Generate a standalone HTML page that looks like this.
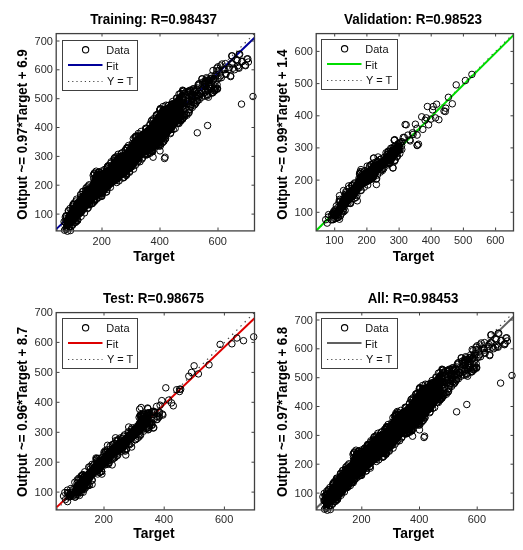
<!DOCTYPE html>
<html><head><meta charset="utf-8"><title>Regression</title>
<style>html,body{margin:0;padding:0;background:#fff;} svg{display:block;}
text{font-family:'Liberation Sans', Arial, Helvetica, sans-serif;}</style></head>
<body><svg width="523" height="550" viewBox="0 0 523 550">
<rect x="0" y="0" width="523" height="550" fill="#fff"/>
<g><line x1="56.5" y1="230.5" x2="254.5" y2="33.5" stroke="#444" stroke-width="1.2" stroke-dasharray="1.4 4.5"/>
<line x1="56.50" y1="228.88" x2="254.50" y2="37.79" stroke="#00009a" stroke-width="2"/>
<polygon points="64.0,219.8 65.5,215.8 67.0,212.8 68.5,210.2 70.0,208.2 71.4,206.1 72.9,204.0 74.4,201.9 75.9,199.8 77.4,197.7 78.9,195.8 80.4,194.0 81.8,192.3 83.3,190.5 84.8,189.0 86.3,187.5 87.8,186.0 89.3,184.5 90.8,180.6 92.3,176.6 93.8,173.3 95.2,171.8 96.7,170.4 98.2,170.2 99.7,170.2 101.2,170.2 102.7,169.5 104.2,168.6 105.7,167.7 107.1,166.7 108.6,164.7 110.1,162.6 111.6,160.5 113.1,158.5 114.6,157.1 116.1,155.6 117.5,154.1 119.0,152.9 120.5,152.5 122.0,152.1 123.5,151.5 125.0,149.7 126.5,147.8 128.0,145.9 129.4,143.6 130.9,141.3 132.4,139.3 133.9,137.8 135.4,136.3 136.9,134.8 138.4,133.3 139.9,132.1 141.3,131.0 142.8,129.8 144.3,128.7 145.8,127.6 147.3,126.5 148.8,124.7 150.3,122.4 151.8,120.2 153.2,118.2 154.7,116.4 156.2,114.7 157.7,112.9 159.2,109.5 160.7,106.9 162.2,106.4 163.7,105.9 165.2,105.4 166.6,104.9 168.1,104.0 169.6,103.1 171.1,102.2 172.6,101.3 174.1,99.5 175.6,97.7 177.1,95.8 178.5,94.0 180.0,92.2 181.5,91.9 183.0,91.7 183.0,118.7 181.5,120.7 180.0,122.6 178.5,124.5 177.1,126.3 175.6,128.1 174.1,129.9 172.6,131.7 171.1,133.4 169.6,135.2 168.1,136.9 166.6,138.6 165.2,140.3 163.7,142.1 162.2,143.8 160.7,145.6 159.2,147.2 157.7,148.3 156.2,149.4 154.7,150.4 153.2,151.5 151.8,152.5 150.3,153.3 148.8,154.0 147.3,154.7 145.8,155.3 144.3,156.5 142.8,158.3 141.3,160.1 139.9,161.9 138.4,163.7 136.9,165.5 135.4,167.3 133.9,169.1 132.4,170.5 130.9,171.7 129.4,172.9 128.0,174.2 126.5,175.4 125.0,176.6 123.5,177.8 122.0,179.1 120.5,180.3 119.0,181.5 117.5,182.7 116.1,183.9 114.6,185.1 113.1,186.3 111.6,187.8 110.1,189.3 108.6,190.8 107.1,192.2 105.7,193.4 104.2,194.6 102.7,195.8 101.2,196.8 99.7,197.7 98.2,198.6 96.7,199.5 95.2,200.8 93.8,202.2 92.3,203.7 90.8,205.2 89.3,207.2 87.8,209.2 86.3,211.3 84.8,213.4 83.3,215.0 81.8,216.4 80.4,217.9 78.9,219.4 77.4,220.9 75.9,222.4 74.4,223.9 72.9,225.1 71.4,226.3 70.0,227.4 68.5,228.5 67.0,228.8 65.5,229.2 64.0,229.5" fill="#000"/><g fill="none" stroke="#000" stroke-width="1"><circle cx="117.8" cy="169.9" r="3.25"/><circle cx="174.0" cy="113.8" r="3.25"/><circle cx="124.4" cy="166.1" r="3.25"/><circle cx="86.0" cy="200.1" r="3.25"/><circle cx="139.0" cy="156.8" r="3.25"/><circle cx="75.2" cy="207.6" r="3.25"/><circle cx="74.8" cy="219.3" r="3.25"/><circle cx="146.5" cy="128.2" r="3.25"/><circle cx="180.9" cy="120.5" r="3.25"/><circle cx="141.8" cy="148.4" r="3.25"/><circle cx="82.7" cy="191.6" r="3.25"/><circle cx="126.9" cy="148.9" r="3.25"/><circle cx="86.6" cy="192.9" r="3.25"/><circle cx="67.6" cy="219.5" r="3.25"/><circle cx="116.4" cy="179.1" r="3.25"/><circle cx="125.8" cy="166.1" r="3.25"/><circle cx="123.5" cy="169.0" r="3.25"/><circle cx="118.4" cy="161.3" r="3.25"/><circle cx="182.7" cy="119.0" r="3.25"/><circle cx="164.0" cy="131.2" r="3.25"/><circle cx="101.5" cy="176.3" r="3.25"/><circle cx="98.4" cy="172.2" r="3.25"/><circle cx="155.2" cy="129.6" r="3.25"/><circle cx="164.7" cy="119.2" r="3.25"/><circle cx="178.0" cy="120.5" r="3.25"/><circle cx="64.1" cy="221.7" r="3.25"/><circle cx="172.3" cy="115.8" r="3.25"/><circle cx="180.7" cy="103.9" r="3.25"/><circle cx="72.7" cy="217.5" r="3.25"/><circle cx="156.6" cy="123.6" r="3.25"/><circle cx="74.4" cy="209.3" r="3.25"/><circle cx="178.7" cy="116.9" r="3.25"/><circle cx="78.0" cy="202.6" r="3.25"/><circle cx="76.0" cy="201.0" r="3.25"/><circle cx="158.8" cy="117.1" r="3.25"/><circle cx="130.6" cy="155.4" r="3.25"/><circle cx="86.7" cy="204.5" r="3.25"/><circle cx="79.6" cy="210.3" r="3.25"/><circle cx="77.9" cy="206.9" r="3.25"/><circle cx="89.3" cy="190.5" r="3.25"/><circle cx="179.5" cy="117.3" r="3.25"/><circle cx="100.2" cy="194.3" r="3.25"/><circle cx="89.1" cy="193.7" r="3.25"/><circle cx="165.7" cy="127.4" r="3.25"/><circle cx="75.9" cy="222.1" r="3.25"/><circle cx="89.4" cy="190.2" r="3.25"/><circle cx="156.0" cy="126.4" r="3.25"/><circle cx="99.3" cy="172.2" r="3.25"/><circle cx="74.7" cy="214.4" r="3.25"/><circle cx="92.9" cy="191.8" r="3.25"/><circle cx="108.2" cy="177.0" r="3.25"/><circle cx="178.1" cy="109.3" r="3.25"/><circle cx="132.4" cy="166.4" r="3.25"/><circle cx="85.8" cy="191.8" r="3.25"/><circle cx="172.1" cy="126.7" r="3.25"/><circle cx="93.7" cy="178.8" r="3.25"/><circle cx="152.0" cy="150.4" r="3.25"/><circle cx="87.4" cy="208.7" r="3.25"/><circle cx="169.0" cy="123.1" r="3.25"/><circle cx="114.2" cy="160.4" r="3.25"/><circle cx="68.6" cy="227.8" r="3.25"/><circle cx="92.4" cy="195.6" r="3.25"/><circle cx="94.6" cy="196.3" r="3.25"/><circle cx="135.0" cy="145.8" r="3.25"/><circle cx="84.9" cy="206.5" r="3.25"/><circle cx="72.2" cy="209.8" r="3.25"/><circle cx="130.6" cy="167.6" r="3.25"/><circle cx="137.1" cy="143.2" r="3.25"/><circle cx="173.2" cy="106.8" r="3.25"/><circle cx="66.0" cy="218.7" r="3.25"/><circle cx="117.0" cy="156.4" r="3.25"/><circle cx="85.0" cy="197.8" r="3.25"/><circle cx="132.1" cy="143.7" r="3.25"/><circle cx="107.1" cy="189.4" r="3.25"/><circle cx="180.7" cy="111.6" r="3.25"/><circle cx="146.3" cy="143.5" r="3.25"/><circle cx="80.7" cy="194.5" r="3.25"/><circle cx="66.1" cy="227.7" r="3.25"/><circle cx="147.4" cy="153.6" r="3.25"/><circle cx="66.5" cy="223.4" r="3.25"/><circle cx="121.4" cy="172.2" r="3.25"/><circle cx="101.9" cy="196.3" r="3.25"/><circle cx="73.0" cy="215.5" r="3.25"/><circle cx="151.7" cy="149.4" r="3.25"/><circle cx="151.7" cy="143.0" r="3.25"/><circle cx="158.4" cy="144.8" r="3.25"/><circle cx="105.9" cy="185.1" r="3.25"/><circle cx="171.2" cy="129.3" r="3.25"/><circle cx="113.6" cy="180.0" r="3.25"/><circle cx="166.8" cy="124.1" r="3.25"/><circle cx="138.4" cy="145.0" r="3.25"/><circle cx="133.3" cy="157.5" r="3.25"/><circle cx="73.5" cy="216.9" r="3.25"/><circle cx="182.2" cy="116.4" r="3.25"/><circle cx="150.7" cy="134.0" r="3.25"/><circle cx="151.5" cy="139.3" r="3.25"/><circle cx="116.4" cy="179.0" r="3.25"/><circle cx="74.0" cy="218.8" r="3.25"/><circle cx="67.5" cy="221.9" r="3.25"/><circle cx="121.2" cy="158.6" r="3.25"/><circle cx="147.1" cy="140.6" r="3.25"/><circle cx="137.1" cy="162.8" r="3.25"/><circle cx="94.4" cy="172.9" r="3.25"/><circle cx="99.8" cy="188.8" r="3.25"/><circle cx="88.1" cy="189.6" r="3.25"/><circle cx="171.8" cy="122.2" r="3.25"/><circle cx="116.6" cy="180.4" r="3.25"/><circle cx="102.9" cy="186.8" r="3.25"/><circle cx="87.6" cy="196.2" r="3.25"/><circle cx="159.9" cy="143.1" r="3.25"/><circle cx="168.8" cy="116.2" r="3.25"/><circle cx="133.4" cy="148.2" r="3.25"/><circle cx="80.2" cy="206.1" r="3.25"/><circle cx="163.6" cy="136.7" r="3.25"/><circle cx="148.6" cy="152.6" r="3.25"/><circle cx="96.9" cy="175.1" r="3.25"/><circle cx="117.6" cy="161.9" r="3.25"/><circle cx="89.5" cy="193.5" r="3.25"/><circle cx="138.5" cy="148.2" r="3.25"/><circle cx="101.5" cy="192.4" r="3.25"/><circle cx="180.9" cy="105.4" r="3.25"/><circle cx="72.9" cy="204.7" r="3.25"/><circle cx="167.9" cy="105.6" r="3.25"/><circle cx="148.3" cy="141.8" r="3.25"/><circle cx="100.8" cy="191.5" r="3.25"/><circle cx="66.3" cy="216.2" r="3.25"/><circle cx="118.1" cy="154.3" r="3.25"/><circle cx="162.7" cy="115.0" r="3.25"/><circle cx="80.8" cy="194.7" r="3.25"/><circle cx="138.9" cy="146.4" r="3.25"/><circle cx="139.0" cy="152.6" r="3.25"/><circle cx="160.1" cy="144.7" r="3.25"/><circle cx="145.5" cy="133.4" r="3.25"/><circle cx="120.5" cy="157.5" r="3.25"/><circle cx="65.3" cy="222.4" r="3.25"/><circle cx="149.0" cy="129.7" r="3.25"/><circle cx="96.4" cy="180.7" r="3.25"/><circle cx="147.0" cy="141.3" r="3.25"/><circle cx="137.1" cy="157.8" r="3.25"/><circle cx="110.8" cy="183.0" r="3.25"/><circle cx="171.8" cy="104.5" r="3.25"/><circle cx="175.0" cy="120.4" r="3.25"/><circle cx="79.5" cy="205.9" r="3.25"/><circle cx="138.4" cy="160.9" r="3.25"/><circle cx="108.8" cy="179.3" r="3.25"/><circle cx="168.6" cy="129.7" r="3.25"/><circle cx="176.4" cy="110.8" r="3.25"/><circle cx="141.5" cy="136.8" r="3.25"/><circle cx="149.9" cy="147.9" r="3.25"/><circle cx="140.4" cy="153.0" r="3.25"/><circle cx="89.4" cy="204.8" r="3.25"/><circle cx="180.7" cy="121.1" r="3.25"/><circle cx="127.9" cy="168.3" r="3.25"/><circle cx="102.1" cy="193.8" r="3.25"/><circle cx="165.8" cy="117.1" r="3.25"/><circle cx="73.8" cy="212.3" r="3.25"/><circle cx="129.5" cy="166.1" r="3.25"/><circle cx="122.0" cy="152.9" r="3.25"/><circle cx="160.3" cy="109.5" r="3.25"/><circle cx="159.2" cy="116.1" r="3.25"/><circle cx="103.9" cy="189.3" r="3.25"/><circle cx="80.7" cy="197.2" r="3.25"/><circle cx="125.5" cy="168.7" r="3.25"/><circle cx="164.0" cy="130.6" r="3.25"/><circle cx="176.5" cy="111.5" r="3.25"/><circle cx="176.9" cy="98.6" r="3.25"/><circle cx="90.3" cy="194.3" r="3.25"/><circle cx="98.5" cy="190.8" r="3.25"/><circle cx="140.0" cy="147.5" r="3.25"/><circle cx="164.4" cy="125.6" r="3.25"/><circle cx="101.1" cy="180.4" r="3.25"/><circle cx="164.6" cy="137.5" r="3.25"/><circle cx="88.8" cy="204.5" r="3.25"/><circle cx="179.2" cy="109.1" r="3.25"/><circle cx="132.2" cy="145.8" r="3.25"/><circle cx="127.8" cy="160.3" r="3.25"/><circle cx="136.0" cy="136.5" r="3.25"/><circle cx="179.4" cy="108.7" r="3.25"/><circle cx="111.7" cy="182.3" r="3.25"/><circle cx="131.0" cy="156.2" r="3.25"/><circle cx="146.2" cy="129.1" r="3.25"/><circle cx="128.1" cy="157.4" r="3.25"/><circle cx="177.9" cy="123.0" r="3.25"/><circle cx="96.0" cy="184.7" r="3.25"/><circle cx="79.1" cy="205.8" r="3.25"/><circle cx="161.1" cy="141.3" r="3.25"/><circle cx="120.7" cy="161.3" r="3.25"/><circle cx="86.8" cy="201.6" r="3.25"/><circle cx="174.1" cy="103.4" r="3.25"/><circle cx="156.7" cy="114.9" r="3.25"/><circle cx="87.1" cy="187.1" r="3.25"/><circle cx="106.3" cy="191.9" r="3.25"/><circle cx="76.5" cy="220.8" r="3.25"/><circle cx="93.8" cy="174.2" r="3.25"/><circle cx="127.1" cy="147.9" r="3.25"/><circle cx="127.0" cy="148.0" r="3.25"/><circle cx="88.3" cy="207.6" r="3.25"/><circle cx="165.3" cy="139.0" r="3.25"/><circle cx="166.0" cy="105.2" r="3.25"/><circle cx="171.4" cy="104.2" r="3.25"/><circle cx="101.5" cy="195.8" r="3.25"/><circle cx="169.6" cy="107.3" r="3.25"/><circle cx="92.5" cy="203.5" r="3.25"/><circle cx="163.0" cy="106.6" r="3.25"/><circle cx="158.0" cy="114.0" r="3.25"/><circle cx="66.1" cy="215.6" r="3.25"/><circle cx="145.2" cy="155.0" r="3.25"/><circle cx="124.2" cy="177.2" r="3.25"/><circle cx="123.8" cy="177.4" r="3.25"/><circle cx="76.6" cy="199.2" r="3.25"/><circle cx="129.6" cy="172.2" r="3.25"/><circle cx="86.0" cy="188.1" r="3.25"/><circle cx="164.0" cy="141.2" r="3.25"/><circle cx="71.4" cy="226.1" r="3.25"/><circle cx="119.0" cy="180.9" r="3.25"/><circle cx="125.3" cy="150.4" r="3.25"/><circle cx="135.5" cy="136.9" r="3.25"/><circle cx="85.6" cy="190.4" r="3.25"/><circle cx="152.0" cy="120.1" r="3.25"/><circle cx="125.0" cy="150.3" r="3.25"/><circle cx="170.3" cy="133.7" r="3.25"/><circle cx="138.9" cy="135.1" r="3.25"/><circle cx="135.4" cy="165.2" r="3.25"/><circle cx="94.7" cy="201.0" r="3.25"/><circle cx="152.6" cy="151.5" r="3.25"/><circle cx="170.7" cy="132.8" r="3.25"/><circle cx="146.7" cy="154.8" r="3.25"/><circle cx="150.0" cy="124.1" r="3.25"/><circle cx="104.7" cy="169.4" r="3.25"/><circle cx="140.0" cy="161.7" r="3.25"/><circle cx="91.6" cy="203.8" r="3.25"/><circle cx="142.5" cy="157.8" r="3.25"/><circle cx="127.4" cy="148.3" r="3.25"/><circle cx="147.4" cy="154.6" r="3.25"/><circle cx="180.6" cy="93.5" r="3.25"/><circle cx="94.5" cy="173.8" r="3.25"/><circle cx="70.0" cy="208.5" r="3.25"/><circle cx="93.9" cy="201.8" r="3.25"/><circle cx="129.5" cy="171.4" r="3.25"/><circle cx="182.4" cy="119.2" r="3.25"/><circle cx="160.3" cy="108.6" r="3.25"/><circle cx="69.4" cy="226.7" r="3.25"/><circle cx="83.0" cy="191.5" r="3.25"/><circle cx="136.7" cy="136.2" r="3.25"/><circle cx="176.5" cy="98.1" r="3.25"/><circle cx="107.5" cy="166.5" r="3.25"/><circle cx="142.0" cy="159.0" r="3.25"/><circle cx="99.2" cy="172.1" r="3.25"/><circle cx="93.2" cy="175.4" r="3.25"/><circle cx="110.4" cy="187.3" r="3.25"/><circle cx="153.1" cy="121.3" r="3.25"/><circle cx="72.7" cy="225.0" r="3.25"/><circle cx="115.1" cy="157.4" r="3.25"/><circle cx="126.3" cy="175.4" r="3.25"/><circle cx="150.0" cy="125.0" r="3.25"/><circle cx="135.8" cy="136.2" r="3.25"/><circle cx="138.3" cy="133.5" r="3.25"/><circle cx="126.8" cy="147.7" r="3.25"/><circle cx="116.7" cy="182.5" r="3.25"/><circle cx="133.3" cy="138.7" r="3.25"/><circle cx="156.6" cy="146.1" r="3.25"/><circle cx="151.4" cy="120.8" r="3.25"/><circle cx="77.6" cy="220.4" r="3.25"/><circle cx="106.7" cy="168.6" r="3.25"/><circle cx="145.5" cy="154.0" r="3.25"/><circle cx="153.6" cy="118.7" r="3.25"/><circle cx="93.6" cy="200.2" r="3.25"/><circle cx="68.7" cy="211.1" r="3.25"/><circle cx="96.2" cy="171.2" r="3.25"/><circle cx="128.5" cy="145.5" r="3.25"/><circle cx="74.3" cy="222.4" r="3.25"/><circle cx="108.4" cy="165.5" r="3.25"/><circle cx="89.1" cy="184.8" r="3.25"/><circle cx="72.8" cy="206.4" r="3.25"/><circle cx="160.3" cy="146.0" r="3.25"/><circle cx="114.5" cy="158.0" r="3.25"/><circle cx="160.4" cy="109.0" r="3.25"/><circle cx="102.7" cy="192.8" r="3.25"/><circle cx="152.8" cy="150.8" r="3.25"/><circle cx="75.5" cy="222.2" r="3.25"/><circle cx="73.3" cy="204.7" r="3.25"/><circle cx="145.6" cy="128.3" r="3.25"/><circle cx="156.3" cy="115.0" r="3.25"/><circle cx="73.7" cy="204.6" r="3.25"/><circle cx="150.3" cy="153.2" r="3.25"/><circle cx="106.6" cy="192.0" r="3.25"/><circle cx="107.6" cy="166.5" r="3.25"/><circle cx="173.3" cy="129.4" r="3.25"/><circle cx="172.7" cy="101.5" r="3.25"/><circle cx="101.8" cy="171.0" r="3.25"/><circle cx="175.2" cy="128.5" r="3.25"/><circle cx="107.5" cy="167.4" r="3.25"/><circle cx="111.1" cy="161.8" r="3.25"/><circle cx="158.9" cy="146.0" r="3.25"/><circle cx="163.5" cy="141.4" r="3.25"/><circle cx="168.8" cy="105.4" r="3.25"/><circle cx="66.6" cy="227.4" r="3.25"/><circle cx="179.0" cy="123.5" r="3.25"/><circle cx="159.7" cy="110.0" r="3.25"/><circle cx="74.0" cy="203.1" r="3.25"/><circle cx="151.7" cy="151.1" r="3.25"/><circle cx="81.1" cy="216.3" r="3.25"/><circle cx="141.2" cy="131.4" r="3.25"/><circle cx="126.1" cy="173.7" r="3.25"/><circle cx="110.9" cy="163.2" r="3.25"/><circle cx="122.7" cy="178.1" r="3.25"/><circle cx="149.8" cy="152.5" r="3.25"/><circle cx="162.3" cy="143.0" r="3.25"/><circle cx="165.6" cy="138.6" r="3.25"/><circle cx="178.0" cy="123.0" r="3.25"/><circle cx="126.3" cy="175.1" r="3.25"/><circle cx="114.0" cy="158.8" r="3.25"/><circle cx="152.2" cy="151.7" r="3.25"/><circle cx="88.3" cy="186.0" r="3.25"/><circle cx="98.8" cy="197.3" r="3.25"/><circle cx="77.7" cy="220.3" r="3.25"/><circle cx="156.3" cy="115.8" r="3.25"/><circle cx="133.5" cy="169.1" r="3.25"/><circle cx="68.3" cy="210.7" r="3.25"/><circle cx="92.0" cy="203.2" r="3.25"/><circle cx="134.8" cy="137.3" r="3.25"/><circle cx="84.5" cy="212.9" r="3.25"/><circle cx="101.1" cy="196.3" r="3.25"/><circle cx="95.0" cy="199.8" r="3.25"/><circle cx="172.8" cy="103.9" r="3.25"/><circle cx="121.4" cy="153.2" r="3.25"/><circle cx="69.9" cy="227.1" r="3.25"/><circle cx="126.8" cy="174.0" r="3.25"/><circle cx="96.7" cy="199.1" r="3.25"/><circle cx="65.3" cy="217.1" r="3.25"/><circle cx="64.5" cy="230.2" r="3.25"/><circle cx="67.5" cy="231.2" r="3.25"/><circle cx="66.0" cy="229.0" r="3.25"/><circle cx="70.5" cy="230.5" r="3.25"/><circle cx="197.0" cy="96.2" r="3.25"/><circle cx="204.7" cy="83.0" r="3.25"/><circle cx="178.4" cy="105.6" r="3.25"/><circle cx="189.0" cy="109.6" r="3.25"/><circle cx="205.6" cy="90.5" r="3.25"/><circle cx="200.3" cy="93.7" r="3.25"/><circle cx="183.8" cy="103.1" r="3.25"/><circle cx="184.5" cy="114.4" r="3.25"/><circle cx="180.4" cy="116.7" r="3.25"/><circle cx="181.0" cy="112.2" r="3.25"/><circle cx="191.5" cy="97.8" r="3.25"/><circle cx="211.7" cy="78.2" r="3.25"/><circle cx="180.4" cy="119.5" r="3.25"/><circle cx="198.4" cy="85.6" r="3.25"/><circle cx="217.5" cy="88.4" r="3.25"/><circle cx="182.5" cy="103.5" r="3.25"/><circle cx="183.4" cy="100.0" r="3.25"/><circle cx="202.9" cy="84.0" r="3.25"/><circle cx="205.9" cy="81.1" r="3.25"/><circle cx="184.8" cy="111.7" r="3.25"/><circle cx="194.0" cy="95.6" r="3.25"/><circle cx="201.8" cy="89.8" r="3.25"/><circle cx="193.4" cy="88.8" r="3.25"/><circle cx="207.1" cy="95.9" r="3.25"/><circle cx="217.1" cy="84.7" r="3.25"/><circle cx="192.3" cy="96.2" r="3.25"/><circle cx="205.6" cy="91.8" r="3.25"/><circle cx="182.6" cy="98.3" r="3.25"/><circle cx="192.5" cy="98.9" r="3.25"/><circle cx="210.4" cy="86.5" r="3.25"/><circle cx="179.1" cy="118.4" r="3.25"/><circle cx="195.2" cy="96.1" r="3.25"/><circle cx="186.9" cy="101.5" r="3.25"/><circle cx="193.5" cy="102.8" r="3.25"/><circle cx="182.1" cy="107.3" r="3.25"/><circle cx="185.1" cy="108.6" r="3.25"/><circle cx="179.5" cy="101.3" r="3.25"/><circle cx="191.8" cy="102.3" r="3.25"/><circle cx="180.1" cy="106.1" r="3.25"/><circle cx="186.4" cy="98.1" r="3.25"/><circle cx="197.1" cy="101.1" r="3.25"/><circle cx="197.2" cy="100.7" r="3.25"/><circle cx="184.7" cy="114.6" r="3.25"/><circle cx="192.6" cy="92.5" r="3.25"/><circle cx="207.9" cy="94.5" r="3.25"/><circle cx="178.3" cy="102.5" r="3.25"/><circle cx="208.8" cy="84.7" r="3.25"/><circle cx="187.7" cy="91.3" r="3.25"/><circle cx="179.6" cy="111.6" r="3.25"/><circle cx="217.4" cy="89.2" r="3.25"/><circle cx="198.1" cy="84.7" r="3.25"/><circle cx="190.9" cy="106.6" r="3.25"/><circle cx="211.3" cy="88.2" r="3.25"/><circle cx="187.2" cy="103.8" r="3.25"/><circle cx="197.1" cy="95.5" r="3.25"/><circle cx="188.5" cy="113.2" r="3.25"/><circle cx="213.8" cy="79.4" r="3.25"/><circle cx="189.7" cy="110.1" r="3.25"/><circle cx="189.1" cy="112.5" r="3.25"/><circle cx="198.6" cy="95.3" r="3.25"/><circle cx="206.2" cy="83.7" r="3.25"/><circle cx="189.4" cy="96.4" r="3.25"/><circle cx="205.3" cy="92.2" r="3.25"/><circle cx="183.3" cy="115.3" r="3.25"/><circle cx="194.8" cy="91.6" r="3.25"/><circle cx="195.4" cy="103.9" r="3.25"/><circle cx="200.4" cy="93.1" r="3.25"/><circle cx="214.8" cy="90.8" r="3.25"/><circle cx="208.4" cy="86.1" r="3.25"/><circle cx="201.5" cy="97.3" r="3.25"/><circle cx="209.6" cy="88.2" r="3.25"/><circle cx="191.9" cy="96.6" r="3.25"/><circle cx="207.4" cy="89.0" r="3.25"/><circle cx="178.7" cy="115.5" r="3.25"/><circle cx="214.2" cy="88.8" r="3.25"/><circle cx="213.9" cy="90.6" r="3.25"/><circle cx="199.4" cy="96.4" r="3.25"/><circle cx="193.2" cy="90.2" r="3.25"/><circle cx="192.1" cy="95.3" r="3.25"/><circle cx="215.4" cy="86.3" r="3.25"/><circle cx="199.7" cy="93.5" r="3.25"/><circle cx="183.0" cy="106.2" r="3.25"/><circle cx="206.0" cy="86.8" r="3.25"/><circle cx="187.8" cy="100.7" r="3.25"/><circle cx="190.9" cy="104.3" r="3.25"/><circle cx="183.7" cy="94.0" r="3.25"/><circle cx="190.5" cy="105.1" r="3.25"/><circle cx="208.4" cy="90.1" r="3.25"/><circle cx="215.4" cy="81.5" r="3.25"/><circle cx="179.2" cy="108.1" r="3.25"/><circle cx="195.7" cy="89.5" r="3.25"/><circle cx="204.7" cy="86.4" r="3.25"/><circle cx="187.5" cy="98.9" r="3.25"/><circle cx="215.8" cy="76.0" r="3.25"/><circle cx="192.4" cy="94.4" r="3.25"/><circle cx="186.1" cy="91.8" r="3.25"/><circle cx="198.0" cy="97.9" r="3.25"/><circle cx="184.5" cy="93.3" r="3.25"/><circle cx="188.0" cy="92.5" r="3.25"/><circle cx="212.2" cy="93.1" r="3.25"/><circle cx="208.5" cy="80.8" r="3.25"/><circle cx="204.9" cy="96.1" r="3.25"/><circle cx="205.2" cy="80.7" r="3.25"/><circle cx="207.3" cy="80.8" r="3.25"/><circle cx="190.3" cy="90.1" r="3.25"/><circle cx="187.0" cy="115.2" r="3.25"/><circle cx="210.1" cy="79.1" r="3.25"/><circle cx="215.4" cy="89.0" r="3.25"/><circle cx="213.9" cy="78.4" r="3.25"/><circle cx="183.0" cy="117.8" r="3.25"/><circle cx="209.4" cy="80.4" r="3.25"/><circle cx="202.7" cy="82.2" r="3.25"/><circle cx="193.4" cy="88.9" r="3.25"/><circle cx="210.3" cy="78.9" r="3.25"/><circle cx="216.8" cy="88.8" r="3.25"/><circle cx="180.1" cy="120.9" r="3.25"/><circle cx="192.4" cy="107.3" r="3.25"/><circle cx="190.2" cy="91.6" r="3.25"/><circle cx="186.4" cy="113.7" r="3.25"/><circle cx="179.0" cy="94.2" r="3.25"/><circle cx="184.5" cy="116.7" r="3.25"/><circle cx="189.9" cy="90.7" r="3.25"/><circle cx="212.5" cy="92.1" r="3.25"/><circle cx="182.1" cy="118.6" r="3.25"/><circle cx="199.1" cy="99.8" r="3.25"/><circle cx="231.7" cy="55.9" r="3.25"/><circle cx="239.7" cy="54.2" r="3.25"/><circle cx="247.8" cy="58.8" r="3.25"/><circle cx="242.0" cy="61.7" r="3.25"/><circle cx="245.5" cy="65.7" r="3.25"/><circle cx="237.4" cy="60.5" r="3.25"/><circle cx="232.8" cy="64.0" r="3.25"/><circle cx="238.6" cy="67.4" r="3.25"/><circle cx="234.6" cy="69.7" r="3.25"/><circle cx="229.4" cy="67.4" r="3.25"/><circle cx="222.0" cy="64.0" r="3.25"/><circle cx="217.9" cy="66.8" r="3.25"/><circle cx="224.8" cy="69.7" r="3.25"/><circle cx="216.8" cy="70.8" r="3.25"/><circle cx="230.6" cy="76.6" r="3.25"/><circle cx="221.4" cy="77.7" r="3.25"/><circle cx="226.0" cy="74.3" r="3.25"/><circle cx="213.3" cy="80.0" r="3.25"/><circle cx="206.5" cy="77.7" r="3.25"/><circle cx="201.9" cy="78.9" r="3.25"/><circle cx="208.8" cy="82.3" r="3.25"/><circle cx="217.9" cy="78.9" r="3.25"/><circle cx="241.5" cy="104.1" r="3.25"/><circle cx="253.0" cy="96.5" r="3.25"/><circle cx="207.6" cy="125.5" r="3.25"/><circle cx="197.3" cy="132.8" r="3.25"/><circle cx="165.1" cy="157.2" r="3.25"/><circle cx="164.5" cy="158.5" r="3.25"/><circle cx="160.0" cy="150.9" r="3.25"/><circle cx="153.1" cy="157.2" r="3.25"/><circle cx="183.2" cy="90.8" r="3.25"/><circle cx="182.6" cy="90.2" r="3.25"/><circle cx="232.2" cy="55.9" r="3.25"/><circle cx="239.1" cy="54.4" r="3.25"/><circle cx="246.9" cy="59.0" r="3.25"/><circle cx="248.4" cy="62.0" r="3.25"/><circle cx="242.2" cy="61.3" r="3.25"/><circle cx="236.1" cy="59.8" r="3.25"/><circle cx="245.3" cy="65.1" r="3.25"/><circle cx="237.6" cy="65.9" r="3.25"/><circle cx="231.5" cy="63.6" r="3.25"/><circle cx="225.4" cy="63.6" r="3.25"/><circle cx="220.7" cy="65.9" r="3.25"/><circle cx="216.8" cy="68.2" r="3.25"/><circle cx="213.0" cy="70.5" r="3.25"/><circle cx="219.1" cy="70.5" r="3.25"/><circle cx="223.7" cy="69.7" r="3.25"/><circle cx="228.4" cy="69.7" r="3.25"/><circle cx="233.0" cy="68.2" r="3.25"/><circle cx="239.1" cy="68.2" r="3.25"/><circle cx="216.1" cy="74.3" r="3.25"/><circle cx="220.7" cy="75.8" r="3.25"/><circle cx="225.4" cy="73.5" r="3.25"/><circle cx="230.7" cy="75.8" r="3.25"/><circle cx="219.1" cy="78.1" r="3.25"/><circle cx="211.5" cy="75.8" r="3.25"/><circle cx="206.9" cy="78.9" r="3.25"/><circle cx="202.2" cy="78.9" r="3.25"/><circle cx="205.4" cy="83.5" r="3.25"/><circle cx="199.2" cy="83.5" r="3.25"/><circle cx="210.0" cy="86.5" r="3.25"/><circle cx="214.6" cy="89.6" r="3.25"/><circle cx="213.0" cy="92.6" r="3.25"/><circle cx="206.9" cy="94.2" r="3.25"/><circle cx="208.4" cy="97.2" r="3.25"/><circle cx="197.6" cy="88.0" r="3.25"/><circle cx="194.6" cy="91.1" r="3.25"/><circle cx="200.7" cy="94.2" r="3.25"/><circle cx="196.1" cy="102.7" r="3.25"/><circle cx="190.0" cy="94.2" r="3.25"/><circle cx="183.0" cy="90.8" r="3.25"/><circle cx="183.5" cy="91.3" r="3.25"/><circle cx="188.5" cy="101.8" r="3.25"/><circle cx="183.8" cy="104.9" r="3.25"/><circle cx="194.6" cy="104.9" r="3.25"/></g>
<rect x="56.2" y="33.6" width="198.3" height="197.3" fill="none" stroke="#404040" stroke-width="1.3"/>
<text transform="translate(101.7,244.5) scale(1,1.06)" font-size="11" text-anchor="middle" fill="#2a2a2a">200</text>
<text transform="translate(159.7,244.5) scale(1,1.06)" font-size="11" text-anchor="middle" fill="#2a2a2a">400</text>
<text transform="translate(217.7,244.5) scale(1,1.06)" font-size="11" text-anchor="middle" fill="#2a2a2a">600</text>
<text transform="translate(52.9,217.6) scale(1,1.06)" font-size="11" text-anchor="end" fill="#2a2a2a">100</text>
<text transform="translate(52.9,188.7) scale(1,1.06)" font-size="11" text-anchor="end" fill="#2a2a2a">200</text>
<text transform="translate(52.9,159.9) scale(1,1.06)" font-size="11" text-anchor="end" fill="#2a2a2a">300</text>
<text transform="translate(52.9,131.0) scale(1,1.06)" font-size="11" text-anchor="end" fill="#2a2a2a">400</text>
<text transform="translate(52.9,102.2) scale(1,1.06)" font-size="11" text-anchor="end" fill="#2a2a2a">500</text>
<text transform="translate(52.9,73.3) scale(1,1.06)" font-size="11" text-anchor="end" fill="#2a2a2a">600</text>
<text transform="translate(52.9,44.5) scale(1,1.06)" font-size="11" text-anchor="end" fill="#2a2a2a">700</text>
<path d="M102.0 230.5v-3M102.0 33.5v3M160.0 230.5v-3M160.0 33.5v3M218.0 230.5v-3M218.0 33.5v3M56.5 214.1h3M254.5 214.1h-3M56.5 185.2h3M254.5 185.2h-3M56.5 156.4h3M254.5 156.4h-3M56.5 127.5h3M254.5 127.5h-3M56.5 98.7h3M254.5 98.7h-3M56.5 69.8h3M254.5 69.8h-3M56.5 41.0h3M254.5 41.0h-3" stroke="#404040" stroke-width="1" fill="none"/>
<text transform="translate(153.5,23.5) scale(1.01,1.1)" font-size="13.33" font-weight="bold" text-anchor="middle" fill="#000">Training: R=0.98437</text>
<text transform="translate(153.9,260.5) scale(1.04,1.1)" font-size="13.33" font-weight="bold" text-anchor="middle" fill="#000">Target</text>
<text transform="translate(27.4,134.5) rotate(-90) scale(0.995,1.1)" font-size="13.33" font-weight="bold" text-anchor="middle" fill="#000">Output ~= 0.97*Target + 6.9</text>
<rect x="62.5" y="40.5" width="75" height="50" fill="#fff" stroke="#404040" stroke-width="1"/>
<circle cx="85.6" cy="49.8" r="3.15" fill="none" stroke="#000" stroke-width="1.1"/>
<text transform="translate(106.3,54.4) scale(1,1.06)" font-size="11" fill="#111">Data</text>
<line x1="68.0" y1="65.0" x2="102.5" y2="65.0" stroke="#00009a" stroke-width="2"/>
<text transform="translate(106.1,69.9) scale(1,1.06)" font-size="11" fill="#111">Fit</text>
<line x1="68.0" y1="81.5" x2="102.5" y2="81.5" stroke="#444" stroke-width="1" stroke-dasharray="1.2 3"/>
<text transform="translate(107.0,85.1) scale(1,1.06)" font-size="11" fill="#111">Y = T</text></g>
<g><line x1="316.5" y1="230.5" x2="513.5" y2="33.5" stroke="#444" stroke-width="1.2" stroke-dasharray="1.4 4.5"/>
<line x1="316.50" y1="230.19" x2="513.50" y2="35.16" stroke="#00dd00" stroke-width="2"/>
<polygon points="333.0,211.3 333.9,210.4 334.7,209.4 335.6,208.3 336.4,206.1 337.3,203.9 338.2,202.0 339.0,200.5 339.9,199.0 340.8,197.5 341.6,196.0 342.5,194.6 343.4,193.7 344.2,192.9 345.1,192.0 345.9,191.2 346.8,190.3 347.7,189.4 348.5,188.6 349.4,187.7 350.2,186.8 351.1,185.9 352.0,185.1 352.8,184.2 353.7,183.3 354.6,181.6 355.4,179.7 356.3,177.9 357.1,176.0 358.0,174.2 358.9,173.7 359.7,173.1 360.6,172.6 361.5,172.1 362.3,171.6 363.2,171.0 364.1,170.5 364.9,170.0 365.8,169.5 366.6,168.9 367.5,168.3 368.4,167.3 369.2,166.3 370.1,165.4 370.9,164.4 371.8,163.4 372.7,162.5 373.5,162.0 374.4,161.7 375.3,161.4 376.1,161.1 377.0,160.8 377.9,160.5 378.7,160.2 379.6,159.4 380.4,158.6 381.3,157.7 382.2,156.9 383.0,156.1 383.9,155.3 384.8,154.4 385.6,153.5 386.5,152.5 387.3,151.6 388.2,150.6 389.1,149.7 389.9,148.7 390.8,147.8 391.6,147.0 392.5,146.4 393.4,145.9 394.2,145.4 395.1,144.8 396.0,144.3 396.8,143.7 397.7,143.2 398.6,142.7 399.4,142.2 400.3,141.9 401.1,141.7 402.0,141.4 402.0,151.9 401.1,153.0 400.3,154.0 399.4,155.0 398.6,156.0 397.7,157.0 396.8,158.0 396.0,159.0 395.1,160.2 394.2,161.4 393.4,162.4 392.5,162.8 391.6,163.1 390.8,163.5 389.9,163.9 389.1,164.3 388.2,164.6 387.3,165.3 386.5,166.1 385.6,167.0 384.8,167.9 383.9,168.8 383.0,169.6 382.2,170.5 381.3,171.4 380.4,172.2 379.6,173.1 378.7,174.0 377.9,176.1 377.0,178.3 376.1,180.0 375.3,180.6 374.4,181.3 373.5,181.9 372.7,182.5 371.8,183.1 370.9,183.5 370.1,184.0 369.2,184.4 368.4,184.9 367.5,185.3 366.6,185.7 365.8,186.3 364.9,186.9 364.1,187.4 363.2,188.0 362.3,188.6 361.5,189.7 360.6,191.1 359.7,192.6 358.9,194.0 358.0,195.4 357.1,196.8 356.3,197.6 355.4,198.5 354.6,199.3 353.7,200.2 352.8,201.1 352.0,201.9 351.1,202.8 350.2,203.7 349.4,204.8 348.5,205.8 347.7,206.9 346.8,208.0 345.9,209.0 345.1,210.1 344.2,211.1 343.4,212.2 342.5,213.2 341.6,214.3 340.8,215.3 339.9,216.2 339.0,216.6 338.2,217.1 337.3,217.5 336.4,217.9 335.6,218.4 334.7,218.8 333.9,219.2 333.0,219.7" fill="#000"/><g fill="none" stroke="#000" stroke-width="1"><circle cx="344.4" cy="205.4" r="3.25"/><circle cx="376.8" cy="169.4" r="3.25"/><circle cx="347.9" cy="203.2" r="3.25"/><circle cx="388.7" cy="157.4" r="3.25"/><circle cx="367.9" cy="171.7" r="3.25"/><circle cx="333.2" cy="214.1" r="3.25"/><circle cx="373.4" cy="163.1" r="3.25"/><circle cx="387.8" cy="154.1" r="3.25"/><circle cx="349.1" cy="188.4" r="3.25"/><circle cx="401.8" cy="149.5" r="3.25"/><circle cx="393.4" cy="156.2" r="3.25"/><circle cx="335.4" cy="211.8" r="3.25"/><circle cx="367.3" cy="170.1" r="3.25"/><circle cx="398.7" cy="147.4" r="3.25"/><circle cx="343.7" cy="208.7" r="3.25"/><circle cx="341.6" cy="213.3" r="3.25"/><circle cx="364.3" cy="179.8" r="3.25"/><circle cx="356.7" cy="186.8" r="3.25"/><circle cx="345.9" cy="191.5" r="3.25"/><circle cx="392.7" cy="149.9" r="3.25"/><circle cx="386.8" cy="154.7" r="3.25"/><circle cx="399.8" cy="153.5" r="3.25"/><circle cx="385.1" cy="164.6" r="3.25"/><circle cx="373.1" cy="177.0" r="3.25"/><circle cx="341.5" cy="205.0" r="3.25"/><circle cx="390.1" cy="151.4" r="3.25"/><circle cx="396.7" cy="156.9" r="3.25"/><circle cx="361.3" cy="178.6" r="3.25"/><circle cx="364.1" cy="176.9" r="3.25"/><circle cx="401.6" cy="145.6" r="3.25"/><circle cx="334.9" cy="209.8" r="3.25"/><circle cx="382.5" cy="170.4" r="3.25"/><circle cx="367.2" cy="176.9" r="3.25"/><circle cx="371.0" cy="178.9" r="3.25"/><circle cx="348.3" cy="199.4" r="3.25"/><circle cx="371.4" cy="176.1" r="3.25"/><circle cx="345.5" cy="194.4" r="3.25"/><circle cx="357.0" cy="195.7" r="3.25"/><circle cx="356.9" cy="188.8" r="3.25"/><circle cx="354.2" cy="183.9" r="3.25"/><circle cx="337.5" cy="215.0" r="3.25"/><circle cx="386.6" cy="157.4" r="3.25"/><circle cx="380.2" cy="168.2" r="3.25"/><circle cx="395.0" cy="160.1" r="3.25"/><circle cx="361.1" cy="190.5" r="3.25"/><circle cx="399.3" cy="149.9" r="3.25"/><circle cx="393.9" cy="153.5" r="3.25"/><circle cx="358.9" cy="178.5" r="3.25"/><circle cx="393.5" cy="148.3" r="3.25"/><circle cx="337.8" cy="214.7" r="3.25"/><circle cx="386.4" cy="159.2" r="3.25"/><circle cx="390.8" cy="148.3" r="3.25"/><circle cx="350.8" cy="191.0" r="3.25"/><circle cx="361.9" cy="174.4" r="3.25"/><circle cx="337.8" cy="207.5" r="3.25"/><circle cx="395.0" cy="160.4" r="3.25"/><circle cx="384.5" cy="161.2" r="3.25"/><circle cx="350.4" cy="203.2" r="3.25"/><circle cx="369.3" cy="179.7" r="3.25"/><circle cx="335.0" cy="210.9" r="3.25"/><circle cx="390.8" cy="160.5" r="3.25"/><circle cx="393.8" cy="155.5" r="3.25"/><circle cx="362.4" cy="181.5" r="3.25"/><circle cx="391.6" cy="151.8" r="3.25"/><circle cx="369.9" cy="170.5" r="3.25"/><circle cx="386.0" cy="152.8" r="3.25"/><circle cx="380.3" cy="172.1" r="3.25"/><circle cx="334.6" cy="215.1" r="3.25"/><circle cx="377.4" cy="175.0" r="3.25"/><circle cx="373.3" cy="167.0" r="3.25"/><circle cx="361.0" cy="190.1" r="3.25"/><circle cx="395.5" cy="146.3" r="3.25"/><circle cx="339.5" cy="200.9" r="3.25"/><circle cx="334.7" cy="213.5" r="3.25"/><circle cx="342.7" cy="210.8" r="3.25"/><circle cx="378.2" cy="161.9" r="3.25"/><circle cx="370.2" cy="171.2" r="3.25"/><circle cx="367.1" cy="172.1" r="3.25"/><circle cx="344.5" cy="195.7" r="3.25"/><circle cx="359.1" cy="188.0" r="3.25"/><circle cx="371.0" cy="164.9" r="3.25"/><circle cx="382.1" cy="169.2" r="3.25"/><circle cx="386.4" cy="163.6" r="3.25"/><circle cx="333.5" cy="214.7" r="3.25"/><circle cx="337.4" cy="214.4" r="3.25"/><circle cx="345.1" cy="210.4" r="3.25"/><circle cx="354.6" cy="182.9" r="3.25"/><circle cx="359.8" cy="173.5" r="3.25"/><circle cx="367.7" cy="185.0" r="3.25"/><circle cx="398.4" cy="143.5" r="3.25"/><circle cx="383.7" cy="168.5" r="3.25"/><circle cx="354.4" cy="198.4" r="3.25"/><circle cx="337.4" cy="217.6" r="3.25"/><circle cx="400.4" cy="143.0" r="3.25"/><circle cx="340.4" cy="201.2" r="3.25"/><circle cx="338.1" cy="217.4" r="3.25"/><circle cx="375.9" cy="162.1" r="3.25"/><circle cx="377.5" cy="161.4" r="3.25"/><circle cx="360.7" cy="172.3" r="3.25"/><circle cx="336.4" cy="205.9" r="3.25"/><circle cx="389.4" cy="162.6" r="3.25"/><circle cx="364.5" cy="170.9" r="3.25"/><circle cx="376.6" cy="178.8" r="3.25"/><circle cx="338.9" cy="202.3" r="3.25"/><circle cx="394.4" cy="161.4" r="3.25"/><circle cx="376.2" cy="179.1" r="3.25"/><circle cx="381.2" cy="169.8" r="3.25"/><circle cx="349.9" cy="203.2" r="3.25"/><circle cx="389.9" cy="163.2" r="3.25"/><circle cx="401.3" cy="141.6" r="3.25"/><circle cx="360.0" cy="173.5" r="3.25"/><circle cx="371.2" cy="164.7" r="3.25"/><circle cx="384.2" cy="157.3" r="3.25"/><circle cx="340.5" cy="215.8" r="3.25"/><circle cx="356.1" cy="197.4" r="3.25"/><circle cx="380.0" cy="159.5" r="3.25"/><circle cx="350.5" cy="203.4" r="3.25"/><circle cx="343.6" cy="211.8" r="3.25"/><circle cx="352.1" cy="186.0" r="3.25"/><circle cx="397.9" cy="144.2" r="3.25"/><circle cx="352.4" cy="184.9" r="3.25"/><circle cx="359.5" cy="174.0" r="3.25"/><circle cx="335.4" cy="216.0" r="3.25"/><circle cx="397.5" cy="156.2" r="3.25"/><circle cx="335.7" cy="218.5" r="3.25"/><circle cx="381.3" cy="158.8" r="3.25"/><circle cx="339.5" cy="199.4" r="3.25"/><circle cx="364.3" cy="187.2" r="3.25"/><circle cx="387.6" cy="164.9" r="3.25"/><circle cx="369.5" cy="166.1" r="3.25"/><circle cx="371.1" cy="165.0" r="3.25"/><circle cx="388.4" cy="162.7" r="3.25"/><circle cx="334.2" cy="218.3" r="3.25"/><circle cx="338.6" cy="217.2" r="3.25"/><circle cx="346.0" cy="192.7" r="3.25"/><circle cx="389.2" cy="163.6" r="3.25"/><circle cx="388.2" cy="151.1" r="3.25"/><circle cx="351.6" cy="185.5" r="3.25"/><circle cx="394.4" cy="146.5" r="3.25"/><circle cx="337.7" cy="217.4" r="3.25"/><circle cx="333.7" cy="211.5" r="3.25"/><circle cx="327.2" cy="223.1" r="3.25"/><circle cx="328.3" cy="217.1" r="3.25"/><circle cx="331.6" cy="215.4" r="3.25"/><circle cx="333.2" cy="212.8" r="3.25"/><circle cx="333.7" cy="213.2" r="3.25"/><circle cx="331.2" cy="219.9" r="3.25"/><circle cx="332.0" cy="214.6" r="3.25"/><circle cx="333.2" cy="219.7" r="3.25"/><circle cx="332.9" cy="219.4" r="3.25"/><circle cx="325.7" cy="219.7" r="3.25"/><circle cx="328.6" cy="214.6" r="3.25"/><circle cx="339.5" cy="195.7" r="3.25"/><circle cx="343.5" cy="190.5" r="3.25"/><circle cx="348.7" cy="185.9" r="3.25"/><circle cx="357.3" cy="200.8" r="3.25"/><circle cx="339.5" cy="219.2" r="3.25"/><circle cx="360.2" cy="171.6" r="3.25"/><circle cx="360.9" cy="169.6" r="3.25"/><circle cx="367.2" cy="166.1" r="3.25"/><circle cx="373.5" cy="158.1" r="3.25"/><circle cx="378.1" cy="157.0" r="3.25"/><circle cx="394.7" cy="139.7" r="3.25"/><circle cx="376.4" cy="184.5" r="3.25"/><circle cx="393.0" cy="167.8" r="3.25"/><circle cx="405.1" cy="124.5" r="3.25"/><circle cx="394.4" cy="140.1" r="3.25"/><circle cx="417.3" cy="145.1" r="3.25"/><circle cx="392.9" cy="168.0" r="3.25"/><circle cx="373.8" cy="158.1" r="3.25"/><circle cx="427.4" cy="106.5" r="3.25"/><circle cx="433.2" cy="106.5" r="3.25"/><circle cx="436.6" cy="104.2" r="3.25"/><circle cx="432.6" cy="109.9" r="3.25"/><circle cx="444.0" cy="111.0" r="3.25"/><circle cx="421.7" cy="116.8" r="3.25"/><circle cx="426.3" cy="117.9" r="3.25"/><circle cx="430.9" cy="119.1" r="3.25"/><circle cx="435.5" cy="117.9" r="3.25"/><circle cx="438.9" cy="119.7" r="3.25"/><circle cx="425.1" cy="120.2" r="3.25"/><circle cx="406.2" cy="124.8" r="3.25"/><circle cx="415.4" cy="124.2" r="3.25"/><circle cx="417.1" cy="128.3" r="3.25"/><circle cx="422.8" cy="129.4" r="3.25"/><circle cx="428.6" cy="124.8" r="3.25"/><circle cx="412.5" cy="132.8" r="3.25"/><circle cx="417.1" cy="135.1" r="3.25"/><circle cx="403.3" cy="137.4" r="3.25"/><circle cx="407.9" cy="135.1" r="3.25"/><circle cx="394.2" cy="140.3" r="3.25"/><circle cx="417.1" cy="145.5" r="3.25"/><circle cx="399.9" cy="143.2" r="3.25"/><circle cx="410.2" cy="140.9" r="3.25"/><circle cx="471.9" cy="74.4" r="3.25"/><circle cx="465.4" cy="80.5" r="3.25"/><circle cx="456.2" cy="84.9" r="3.25"/><circle cx="448.4" cy="97.3" r="3.25"/><circle cx="452.3" cy="103.8" r="3.25"/><circle cx="445.8" cy="108.2" r="3.25"/><circle cx="445.3" cy="111.5" r="3.25"/><circle cx="413.1" cy="134.4" r="3.25"/><circle cx="404.4" cy="137.6" r="3.25"/><circle cx="409.8" cy="139.8" r="3.25"/><circle cx="402.2" cy="142.0" r="3.25"/><circle cx="418.5" cy="144.2" r="3.25"/><circle cx="397.0" cy="146.0" r="3.25"/><circle cx="400.0" cy="150.0" r="3.25"/><circle cx="388.0" cy="152.0" r="3.25"/><circle cx="392.0" cy="148.0" r="3.25"/></g>
<rect x="316.2" y="33.6" width="197.3" height="197.3" fill="none" stroke="#404040" stroke-width="1.3"/>
<text transform="translate(334.4,243.9) scale(1,1.06)" font-size="11" text-anchor="middle" fill="#2a2a2a">100</text>
<text transform="translate(366.6,243.9) scale(1,1.06)" font-size="11" text-anchor="middle" fill="#2a2a2a">200</text>
<text transform="translate(398.8,243.9) scale(1,1.06)" font-size="11" text-anchor="middle" fill="#2a2a2a">300</text>
<text transform="translate(430.9,243.9) scale(1,1.06)" font-size="11" text-anchor="middle" fill="#2a2a2a">400</text>
<text transform="translate(463.1,243.9) scale(1,1.06)" font-size="11" text-anchor="middle" fill="#2a2a2a">500</text>
<text transform="translate(495.3,243.9) scale(1,1.06)" font-size="11" text-anchor="middle" fill="#2a2a2a">600</text>
<text transform="translate(312.9,215.8) scale(1,1.06)" font-size="11" text-anchor="end" fill="#2a2a2a">100</text>
<text transform="translate(312.9,183.6) scale(1,1.06)" font-size="11" text-anchor="end" fill="#2a2a2a">200</text>
<text transform="translate(312.9,151.4) scale(1,1.06)" font-size="11" text-anchor="end" fill="#2a2a2a">300</text>
<text transform="translate(312.9,119.3) scale(1,1.06)" font-size="11" text-anchor="end" fill="#2a2a2a">400</text>
<text transform="translate(312.9,87.1) scale(1,1.06)" font-size="11" text-anchor="end" fill="#2a2a2a">500</text>
<text transform="translate(312.9,54.9) scale(1,1.06)" font-size="11" text-anchor="end" fill="#2a2a2a">600</text>
<path d="M334.7 230.5v-3M334.7 33.5v3M366.9 230.5v-3M366.9 33.5v3M399.1 230.5v-3M399.1 33.5v3M431.2 230.5v-3M431.2 33.5v3M463.4 230.5v-3M463.4 33.5v3M495.6 230.5v-3M495.6 33.5v3M316.5 212.3h3M513.5 212.3h-3M316.5 180.1h3M513.5 180.1h-3M316.5 147.9h3M513.5 147.9h-3M316.5 115.8h3M513.5 115.8h-3M316.5 83.6h3M513.5 83.6h-3M316.5 51.4h3M513.5 51.4h-3" stroke="#404040" stroke-width="1" fill="none"/>
<text transform="translate(413.0,23.5) scale(1.01,1.1)" font-size="13.33" font-weight="bold" text-anchor="middle" fill="#000">Validation: R=0.98523</text>
<text transform="translate(413.4,260.5) scale(1.04,1.1)" font-size="13.33" font-weight="bold" text-anchor="middle" fill="#000">Target</text>
<text transform="translate(287.4,134.5) rotate(-90) scale(0.995,1.1)" font-size="13.33" font-weight="bold" text-anchor="middle" fill="#000">Output ~= 0.99*Target + 1.4</text>
<rect x="321.5" y="39.5" width="76" height="50" fill="#fff" stroke="#404040" stroke-width="1"/>
<circle cx="344.6" cy="48.8" r="3.15" fill="none" stroke="#000" stroke-width="1.1"/>
<text transform="translate(365.3,53.4) scale(1,1.06)" font-size="11" fill="#111">Data</text>
<line x1="327.0" y1="64.0" x2="361.5" y2="64.0" stroke="#00dd00" stroke-width="2"/>
<text transform="translate(365.1,68.9) scale(1,1.06)" font-size="11" fill="#111">Fit</text>
<line x1="327.0" y1="80.5" x2="361.5" y2="80.5" stroke="#444" stroke-width="1" stroke-dasharray="1.2 3"/>
<text transform="translate(366.0,84.1) scale(1,1.06)" font-size="11" fill="#111">Y = T</text></g>
<g><line x1="56.5" y1="509.5" x2="254.5" y2="312.5" stroke="#444" stroke-width="1.2" stroke-dasharray="1.4 4.5"/>
<line x1="56.50" y1="507.40" x2="254.50" y2="318.28" stroke="#dd0000" stroke-width="2"/>
<polygon points="67.0,493.5 68.0,493.2 69.1,492.9 70.2,492.6 71.2,491.6 72.2,488.8 73.3,486.0 74.3,483.2 75.4,482.2 76.5,481.2 77.5,480.1 78.5,479.1 79.6,478.0 80.7,477.0 81.7,475.9 82.8,474.8 83.8,473.6 84.8,472.4 85.9,471.3 87.0,470.1 88.0,468.9 89.0,467.8 90.1,466.7 91.2,465.5 92.2,464.4 93.2,463.2 94.3,462.0 95.3,460.8 96.4,459.5 97.5,458.3 98.5,457.3 99.5,456.8 100.6,456.3 101.7,455.7 102.7,454.4 103.8,452.8 104.8,451.2 105.8,450.0 106.9,449.1 108.0,448.1 109.0,447.2 110.0,446.2 111.1,445.3 112.2,444.3 113.2,443.4 114.2,442.4 115.3,441.5 116.3,440.8 117.4,440.2 118.5,439.5 119.5,438.9 120.5,438.3 121.6,437.5 122.7,436.5 123.7,435.4 124.8,434.4 125.8,433.3 126.8,432.2 127.9,431.2 128.9,430.2 130.0,429.1 131.1,428.1 132.1,427.0 133.2,425.9 134.2,424.9 135.2,423.6 136.3,421.7 137.3,419.8 138.4,417.8 139.4,415.9 140.5,415.4 141.6,415.1 142.6,414.9 143.7,414.6 144.7,414.3 145.8,414.1 146.8,413.8 147.8,413.5 148.9,413.2 149.9,412.9 151.0,412.6 151.0,425.3 149.9,425.8 148.9,426.3 147.8,427.4 146.8,428.4 145.8,429.4 144.7,430.5 143.7,431.5 142.6,432.6 141.6,433.6 140.5,434.6 139.4,435.7 138.4,436.7 137.3,437.8 136.3,438.6 135.2,439.5 134.2,440.4 133.2,441.3 132.1,442.2 131.1,443.1 130.0,444.2 128.9,445.7 127.9,447.3 126.8,448.8 125.8,450.4 124.8,451.0 123.7,451.7 122.7,452.3 121.6,453.0 120.5,453.6 119.5,454.3 118.5,454.9 117.4,455.5 116.3,456.2 115.3,457.0 114.2,457.8 113.2,458.6 112.2,459.5 111.1,460.7 110.0,462.0 109.0,463.2 108.0,464.5 106.9,465.6 105.8,466.6 104.8,467.7 103.8,468.8 102.7,469.8 101.7,470.8 100.6,471.6 99.5,472.5 98.5,473.3 97.5,474.1 96.4,475.0 95.3,476.3 94.3,477.7 93.2,479.2 92.2,480.7 91.2,482.1 90.1,483.7 89.0,485.6 88.0,487.4 87.0,489.3 85.9,491.1 84.8,491.9 83.8,492.6 82.8,493.3 81.7,494.0 80.7,494.7 79.6,495.4 78.5,496.0 77.5,496.1 76.5,496.3 75.4,496.5 74.3,496.7 73.3,496.8 72.2,497.0 71.2,497.2 70.2,497.4 69.1,497.5 68.0,497.7 67.0,497.9" fill="#000"/><g fill="none" stroke="#000" stroke-width="1"><circle cx="68.0" cy="493.1" r="3.25"/><circle cx="100.0" cy="467.5" r="3.25"/><circle cx="78.7" cy="480.2" r="3.25"/><circle cx="86.5" cy="485.8" r="3.25"/><circle cx="79.4" cy="491.5" r="3.25"/><circle cx="122.6" cy="438.1" r="3.25"/><circle cx="112.0" cy="451.2" r="3.25"/><circle cx="101.7" cy="471.5" r="3.25"/><circle cx="74.8" cy="482.3" r="3.25"/><circle cx="145.9" cy="420.0" r="3.25"/><circle cx="83.7" cy="479.8" r="3.25"/><circle cx="97.7" cy="474.0" r="3.25"/><circle cx="84.7" cy="476.4" r="3.25"/><circle cx="116.1" cy="449.4" r="3.25"/><circle cx="147.1" cy="426.3" r="3.25"/><circle cx="96.9" cy="461.7" r="3.25"/><circle cx="137.3" cy="438.4" r="3.25"/><circle cx="69.6" cy="496.6" r="3.25"/><circle cx="139.9" cy="428.6" r="3.25"/><circle cx="85.3" cy="488.1" r="3.25"/><circle cx="128.3" cy="433.4" r="3.25"/><circle cx="120.8" cy="441.0" r="3.25"/><circle cx="70.5" cy="493.9" r="3.25"/><circle cx="95.1" cy="467.1" r="3.25"/><circle cx="121.3" cy="451.2" r="3.25"/><circle cx="147.8" cy="427.9" r="3.25"/><circle cx="150.5" cy="423.3" r="3.25"/><circle cx="92.7" cy="466.1" r="3.25"/><circle cx="119.4" cy="447.4" r="3.25"/><circle cx="123.7" cy="436.3" r="3.25"/><circle cx="83.2" cy="492.2" r="3.25"/><circle cx="117.5" cy="451.1" r="3.25"/><circle cx="75.0" cy="488.0" r="3.25"/><circle cx="143.4" cy="426.0" r="3.25"/><circle cx="150.3" cy="414.9" r="3.25"/><circle cx="105.2" cy="464.4" r="3.25"/><circle cx="104.4" cy="465.2" r="3.25"/><circle cx="114.2" cy="443.7" r="3.25"/><circle cx="75.3" cy="497.0" r="3.25"/><circle cx="77.0" cy="483.1" r="3.25"/><circle cx="95.2" cy="472.4" r="3.25"/><circle cx="138.7" cy="426.3" r="3.25"/><circle cx="108.8" cy="460.5" r="3.25"/><circle cx="90.4" cy="472.5" r="3.25"/><circle cx="118.5" cy="449.5" r="3.25"/><circle cx="70.2" cy="492.5" r="3.25"/><circle cx="78.6" cy="491.7" r="3.25"/><circle cx="125.2" cy="451.1" r="3.25"/><circle cx="131.5" cy="431.1" r="3.25"/><circle cx="131.3" cy="443.4" r="3.25"/><circle cx="96.3" cy="459.0" r="3.25"/><circle cx="98.5" cy="461.5" r="3.25"/><circle cx="81.8" cy="475.9" r="3.25"/><circle cx="77.5" cy="494.6" r="3.25"/><circle cx="71.2" cy="495.2" r="3.25"/><circle cx="84.3" cy="476.2" r="3.25"/><circle cx="135.9" cy="427.0" r="3.25"/><circle cx="82.4" cy="483.4" r="3.25"/><circle cx="125.4" cy="442.6" r="3.25"/><circle cx="139.2" cy="424.0" r="3.25"/><circle cx="111.0" cy="456.8" r="3.25"/><circle cx="105.8" cy="462.4" r="3.25"/><circle cx="106.2" cy="451.3" r="3.25"/><circle cx="77.4" cy="493.2" r="3.25"/><circle cx="129.6" cy="444.7" r="3.25"/><circle cx="125.0" cy="444.0" r="3.25"/><circle cx="81.0" cy="492.5" r="3.25"/><circle cx="77.0" cy="487.1" r="3.25"/><circle cx="78.8" cy="485.1" r="3.25"/><circle cx="92.8" cy="470.4" r="3.25"/><circle cx="126.7" cy="441.5" r="3.25"/><circle cx="87.4" cy="484.8" r="3.25"/><circle cx="128.7" cy="443.9" r="3.25"/><circle cx="69.8" cy="495.8" r="3.25"/><circle cx="142.2" cy="419.2" r="3.25"/><circle cx="84.0" cy="489.5" r="3.25"/><circle cx="97.6" cy="464.3" r="3.25"/><circle cx="135.7" cy="428.9" r="3.25"/><circle cx="83.7" cy="477.4" r="3.25"/><circle cx="96.0" cy="471.0" r="3.25"/><circle cx="97.9" cy="470.5" r="3.25"/><circle cx="72.5" cy="489.8" r="3.25"/><circle cx="119.5" cy="446.2" r="3.25"/><circle cx="109.0" cy="462.9" r="3.25"/><circle cx="90.3" cy="469.0" r="3.25"/><circle cx="69.8" cy="495.0" r="3.25"/><circle cx="92.0" cy="472.3" r="3.25"/><circle cx="67.5" cy="492.6" r="3.25"/><circle cx="98.9" cy="469.6" r="3.25"/><circle cx="92.2" cy="479.9" r="3.25"/><circle cx="115.7" cy="440.6" r="3.25"/><circle cx="117.8" cy="455.0" r="3.25"/><circle cx="112.4" cy="444.9" r="3.25"/><circle cx="82.8" cy="475.1" r="3.25"/><circle cx="112.6" cy="459.1" r="3.25"/><circle cx="139.1" cy="417.3" r="3.25"/><circle cx="99.6" cy="472.3" r="3.25"/><circle cx="101.5" cy="471.4" r="3.25"/><circle cx="87.4" cy="485.8" r="3.25"/><circle cx="124.5" cy="434.9" r="3.25"/><circle cx="149.6" cy="425.7" r="3.25"/><circle cx="108.3" cy="464.4" r="3.25"/><circle cx="78.8" cy="478.2" r="3.25"/><circle cx="101.3" cy="471.4" r="3.25"/><circle cx="104.0" cy="454.3" r="3.25"/><circle cx="104.0" cy="452.1" r="3.25"/><circle cx="107.2" cy="463.9" r="3.25"/><circle cx="128.1" cy="431.9" r="3.25"/><circle cx="81.2" cy="475.9" r="3.25"/><circle cx="114.8" cy="457.7" r="3.25"/><circle cx="94.1" cy="464.6" r="3.25"/><circle cx="124.5" cy="450.2" r="3.25"/><circle cx="70.3" cy="496.7" r="3.25"/><circle cx="135.6" cy="439.6" r="3.25"/><circle cx="143.5" cy="431.2" r="3.25"/><circle cx="113.7" cy="458.2" r="3.25"/><circle cx="105.1" cy="452.6" r="3.25"/><circle cx="140.1" cy="416.2" r="3.25"/><circle cx="99.0" cy="458.3" r="3.25"/><circle cx="102.4" cy="457.3" r="3.25"/><circle cx="89.9" cy="466.7" r="3.25"/><circle cx="82.6" cy="475.3" r="3.25"/><circle cx="88.8" cy="485.5" r="3.25"/><circle cx="76.1" cy="495.0" r="3.25"/><circle cx="89.3" cy="485.3" r="3.25"/><circle cx="74.9" cy="497.1" r="3.25"/><circle cx="112.5" cy="444.6" r="3.25"/><circle cx="107.5" cy="449.6" r="3.25"/><circle cx="117.5" cy="440.4" r="3.25"/><circle cx="132.0" cy="427.9" r="3.25"/><circle cx="126.4" cy="448.5" r="3.25"/><circle cx="113.3" cy="456.8" r="3.25"/><circle cx="131.4" cy="429.4" r="3.25"/><circle cx="116.9" cy="455.9" r="3.25"/><circle cx="138.9" cy="437.0" r="3.25"/><circle cx="118.5" cy="439.3" r="3.25"/><circle cx="148.4" cy="415.3" r="3.25"/><circle cx="140.1" cy="415.3" r="3.25"/><circle cx="105.1" cy="450.8" r="3.25"/><circle cx="140.7" cy="414.7" r="3.25"/><circle cx="99.7" cy="472.5" r="3.25"/><circle cx="109.0" cy="462.8" r="3.25"/><circle cx="82.8" cy="474.5" r="3.25"/><circle cx="126.5" cy="449.5" r="3.25"/><circle cx="116.7" cy="441.4" r="3.25"/><circle cx="73.0" cy="495.6" r="3.25"/><circle cx="120.5" cy="437.9" r="3.25"/><circle cx="135.2" cy="439.8" r="3.25"/><circle cx="96.2" cy="460.3" r="3.25"/><circle cx="92.0" cy="464.4" r="3.25"/><circle cx="92.0" cy="480.3" r="3.25"/><circle cx="110.2" cy="445.9" r="3.25"/><circle cx="70.1" cy="494.4" r="3.25"/><circle cx="139.4" cy="433.3" r="3.25"/><circle cx="142.6" cy="414.1" r="3.25"/><circle cx="117.9" cy="453.0" r="3.25"/><circle cx="97.2" cy="458.4" r="3.25"/><circle cx="80.9" cy="478.9" r="3.25"/><circle cx="68.1" cy="496.8" r="3.25"/><circle cx="79.5" cy="495.4" r="3.25"/><circle cx="64.8" cy="492.5" r="3.25"/><circle cx="65.5" cy="499.5" r="3.25"/><circle cx="63.5" cy="496.0" r="3.25"/><circle cx="141.5" cy="418.6" r="3.25"/><circle cx="146.1" cy="428.3" r="3.25"/><circle cx="149.9" cy="422.6" r="3.25"/><circle cx="142.0" cy="424.3" r="3.25"/><circle cx="156.9" cy="416.5" r="3.25"/><circle cx="158.9" cy="417.2" r="3.25"/><circle cx="147.4" cy="412.9" r="3.25"/><circle cx="155.1" cy="412.5" r="3.25"/><circle cx="140.2" cy="430.1" r="3.25"/><circle cx="156.9" cy="419.6" r="3.25"/><circle cx="159.1" cy="412.9" r="3.25"/><circle cx="141.6" cy="416.7" r="3.25"/><circle cx="159.6" cy="412.3" r="3.25"/><circle cx="143.2" cy="414.3" r="3.25"/><circle cx="141.0" cy="415.2" r="3.25"/><circle cx="147.1" cy="415.5" r="3.25"/><circle cx="146.2" cy="428.6" r="3.25"/><circle cx="143.3" cy="429.2" r="3.25"/><circle cx="154.8" cy="418.1" r="3.25"/><circle cx="151.5" cy="422.6" r="3.25"/><circle cx="151.7" cy="414.8" r="3.25"/><circle cx="146.6" cy="417.0" r="3.25"/><circle cx="148.0" cy="427.8" r="3.25"/><circle cx="148.5" cy="413.6" r="3.25"/><circle cx="149.5" cy="424.1" r="3.25"/><circle cx="148.9" cy="422.8" r="3.25"/><circle cx="141.8" cy="415.5" r="3.25"/><circle cx="153.2" cy="411.8" r="3.25"/><circle cx="146.0" cy="419.6" r="3.25"/><circle cx="143.9" cy="414.4" r="3.25"/><circle cx="140.1" cy="434.7" r="3.25"/><circle cx="149.8" cy="423.9" r="3.25"/><circle cx="157.3" cy="419.2" r="3.25"/><circle cx="144.5" cy="413.8" r="3.25"/><circle cx="154.5" cy="411.7" r="3.25"/><circle cx="152.1" cy="424.4" r="3.25"/><circle cx="152.9" cy="411.3" r="3.25"/><circle cx="140.5" cy="435.3" r="3.25"/><circle cx="151.9" cy="425.4" r="3.25"/><circle cx="159.3" cy="416.2" r="3.25"/><circle cx="149.1" cy="412.7" r="3.25"/><circle cx="147.3" cy="413.5" r="3.25"/><circle cx="67.5" cy="490.1" r="3.25"/><circle cx="70.9" cy="488.5" r="3.25"/><circle cx="77.2" cy="479.8" r="3.25"/><circle cx="84.7" cy="471.8" r="3.25"/><circle cx="88.7" cy="467.2" r="3.25"/><circle cx="96.0" cy="458.0" r="3.25"/><circle cx="67.5" cy="501.6" r="3.25"/><circle cx="92.1" cy="484.4" r="3.25"/><circle cx="101.9" cy="474.1" r="3.25"/><circle cx="112.2" cy="464.9" r="3.25"/><circle cx="107.5" cy="445.3" r="3.25"/><circle cx="115.5" cy="437.8" r="3.25"/><circle cx="128.7" cy="427.0" r="3.25"/><circle cx="139.6" cy="409.2" r="3.25"/><circle cx="147.6" cy="408.0" r="3.25"/><circle cx="125.8" cy="455.0" r="3.25"/><circle cx="131.6" cy="447.0" r="3.25"/><circle cx="148.2" cy="429.8" r="3.25"/><circle cx="153.3" cy="428.1" r="3.25"/><circle cx="165.8" cy="387.8" r="3.25"/><circle cx="176.7" cy="389.7" r="3.25"/><circle cx="179.6" cy="391.5" r="3.25"/><circle cx="180.7" cy="389.2" r="3.25"/><circle cx="161.8" cy="400.6" r="3.25"/><circle cx="168.7" cy="400.1" r="3.25"/><circle cx="171.5" cy="402.9" r="3.25"/><circle cx="173.3" cy="405.8" r="3.25"/><circle cx="156.6" cy="406.4" r="3.25"/><circle cx="160.1" cy="405.2" r="3.25"/><circle cx="162.9" cy="415.0" r="3.25"/><circle cx="162.3" cy="414.0" r="3.25"/><circle cx="153.8" cy="427.6" r="3.25"/><circle cx="148.6" cy="429.3" r="3.25"/><circle cx="141.1" cy="407.5" r="3.25"/><circle cx="148.0" cy="408.7" r="3.25"/><circle cx="151.5" cy="412.1" r="3.25"/><circle cx="220.1" cy="344.4" r="3.25"/><circle cx="231.9" cy="343.8" r="3.25"/><circle cx="236.9" cy="338.0" r="3.25"/><circle cx="243.5" cy="340.7" r="3.25"/><circle cx="253.7" cy="336.8" r="3.25"/><circle cx="209.0" cy="364.8" r="3.25"/><circle cx="194.1" cy="365.8" r="3.25"/><circle cx="191.5" cy="372.4" r="3.25"/><circle cx="188.8" cy="376.2" r="3.25"/><circle cx="198.4" cy="373.9" r="3.25"/><circle cx="179.6" cy="389.2" r="3.25"/></g>
<rect x="56.2" y="312.6" width="198.3" height="197.3" fill="none" stroke="#404040" stroke-width="1.3"/>
<text transform="translate(103.7,522.5) scale(1,1.06)" font-size="11" text-anchor="middle" fill="#2a2a2a">200</text>
<text transform="translate(163.9,522.5) scale(1,1.06)" font-size="11" text-anchor="middle" fill="#2a2a2a">400</text>
<text transform="translate(224.1,522.5) scale(1,1.06)" font-size="11" text-anchor="middle" fill="#2a2a2a">600</text>
<text transform="translate(52.9,495.6) scale(1,1.06)" font-size="11" text-anchor="end" fill="#2a2a2a">100</text>
<text transform="translate(52.9,465.7) scale(1,1.06)" font-size="11" text-anchor="end" fill="#2a2a2a">200</text>
<text transform="translate(52.9,435.8) scale(1,1.06)" font-size="11" text-anchor="end" fill="#2a2a2a">300</text>
<text transform="translate(52.9,405.8) scale(1,1.06)" font-size="11" text-anchor="end" fill="#2a2a2a">400</text>
<text transform="translate(52.9,375.9) scale(1,1.06)" font-size="11" text-anchor="end" fill="#2a2a2a">500</text>
<text transform="translate(52.9,345.9) scale(1,1.06)" font-size="11" text-anchor="end" fill="#2a2a2a">600</text>
<text transform="translate(52.9,316.0) scale(1,1.06)" font-size="11" text-anchor="end" fill="#2a2a2a">700</text>
<path d="M104.0 509.5v-3M104.0 312.5v3M164.2 509.5v-3M164.2 312.5v3M224.4 509.5v-3M224.4 312.5v3M56.5 492.1h3M254.5 492.1h-3M56.5 462.2h3M254.5 462.2h-3M56.5 432.3h3M254.5 432.3h-3M56.5 402.3h3M254.5 402.3h-3M56.5 372.4h3M254.5 372.4h-3M56.5 342.4h3M254.5 342.4h-3M56.5 312.5h3M254.5 312.5h-3" stroke="#404040" stroke-width="1" fill="none"/>
<text transform="translate(153.5,302.5) scale(1.01,1.1)" font-size="13.33" font-weight="bold" text-anchor="middle" fill="#000">Test: R=0.98675</text>
<text transform="translate(153.9,538.4) scale(1.04,1.1)" font-size="13.33" font-weight="bold" text-anchor="middle" fill="#000">Target</text>
<text transform="translate(27.4,411.9) rotate(-90) scale(0.995,1.1)" font-size="13.33" font-weight="bold" text-anchor="middle" fill="#000">Output ~= 0.96*Target + 8.7</text>
<rect x="62.5" y="318.5" width="75" height="50" fill="#fff" stroke="#404040" stroke-width="1"/>
<circle cx="85.6" cy="327.8" r="3.15" fill="none" stroke="#000" stroke-width="1.1"/>
<text transform="translate(106.3,332.4) scale(1,1.06)" font-size="11" fill="#111">Data</text>
<line x1="68.0" y1="343.0" x2="102.5" y2="343.0" stroke="#dd0000" stroke-width="2"/>
<text transform="translate(106.1,347.9) scale(1,1.06)" font-size="11" fill="#111">Fit</text>
<line x1="68.0" y1="359.5" x2="102.5" y2="359.5" stroke="#444" stroke-width="1" stroke-dasharray="1.2 3"/>
<text transform="translate(107.0,363.1) scale(1,1.06)" font-size="11" fill="#111">Y = T</text></g>
<g><line x1="316.5" y1="509.5" x2="513.5" y2="312.5" stroke="#444" stroke-width="1.2" stroke-dasharray="1.4 4.5"/>
<line x1="316.50" y1="507.91" x2="513.50" y2="316.82" stroke="#606060" stroke-width="2"/>
<polygon points="324.0,498.8 325.4,494.8 326.9,491.8 328.4,489.2 329.9,487.2 331.4,485.1 332.8,483.0 334.3,480.9 335.8,478.8 337.3,476.7 338.8,474.8 340.2,473.0 341.7,471.3 343.2,469.5 344.7,468.0 346.2,466.5 347.6,465.0 349.1,463.5 350.6,459.6 352.1,455.6 353.6,452.3 355.0,450.8 356.5,449.4 358.0,449.2 359.5,449.2 361.0,449.2 362.4,448.5 363.9,447.6 365.4,446.7 366.9,445.7 368.4,443.7 369.8,441.6 371.3,439.5 372.8,437.5 374.3,436.1 375.8,434.6 377.2,433.1 378.7,431.9 380.2,431.5 381.7,431.1 383.2,430.5 384.6,428.7 386.1,426.8 387.6,424.9 389.1,422.6 390.6,420.3 392.0,418.3 393.5,416.8 395.0,415.3 396.5,413.8 398.0,412.3 399.4,411.1 400.9,410.0 402.4,408.8 403.9,407.7 405.4,406.6 406.8,405.5 408.3,403.7 409.8,401.4 411.3,399.2 412.8,397.2 414.2,395.4 415.7,393.7 417.2,391.9 418.7,388.5 420.2,385.9 421.6,385.4 423.1,384.9 424.6,384.4 426.1,383.9 427.6,383.0 429.0,382.1 430.5,381.2 432.0,380.3 433.5,378.5 435.0,376.7 436.4,374.8 437.9,373.0 439.4,371.2 440.9,370.9 442.4,370.7 442.4,397.7 440.9,399.7 439.4,401.6 437.9,403.5 436.4,405.3 435.0,407.1 433.5,408.9 432.0,410.7 430.5,412.4 429.0,414.2 427.6,415.9 426.1,417.6 424.6,419.3 423.1,421.1 421.6,422.8 420.2,424.6 418.7,426.2 417.2,427.3 415.7,428.4 414.2,429.4 412.8,430.5 411.3,431.5 409.8,432.3 408.3,433.0 406.8,433.7 405.4,434.3 403.9,435.5 402.4,437.3 400.9,439.1 399.4,440.9 398.0,442.7 396.5,444.5 395.0,446.3 393.5,448.1 392.0,449.5 390.6,450.7 389.1,451.9 387.6,453.2 386.1,454.4 384.6,455.6 383.2,456.8 381.7,458.1 380.2,459.3 378.7,460.5 377.2,461.7 375.8,462.9 374.3,464.1 372.8,465.3 371.3,466.8 369.8,468.3 368.4,469.8 366.9,471.2 365.4,472.4 363.9,473.6 362.4,474.8 361.0,475.8 359.5,476.7 358.0,477.6 356.5,478.5 355.0,479.8 353.6,481.2 352.1,482.7 350.6,484.2 349.1,486.2 347.6,488.2 346.2,490.3 344.7,492.4 343.2,494.0 341.7,495.4 340.2,496.9 338.8,498.4 337.3,499.9 335.8,501.4 334.3,502.9 332.8,504.1 331.4,505.3 329.9,506.4 328.4,507.5 326.9,507.8 325.4,508.2 324.0,508.5" fill="#000"/><g fill="none" stroke="#000" stroke-width="1"><circle cx="377.5" cy="448.9" r="3.25"/><circle cx="433.4" cy="392.8" r="3.25"/><circle cx="384.1" cy="445.1" r="3.25"/><circle cx="345.8" cy="479.1" r="3.25"/><circle cx="398.5" cy="435.8" r="3.25"/><circle cx="335.1" cy="486.6" r="3.25"/><circle cx="334.7" cy="498.3" r="3.25"/><circle cx="406.1" cy="407.2" r="3.25"/><circle cx="440.3" cy="399.5" r="3.25"/><circle cx="401.4" cy="427.4" r="3.25"/><circle cx="342.6" cy="470.6" r="3.25"/><circle cx="386.5" cy="427.9" r="3.25"/><circle cx="346.5" cy="471.9" r="3.25"/><circle cx="327.5" cy="498.5" r="3.25"/><circle cx="376.1" cy="458.1" r="3.25"/><circle cx="385.4" cy="445.1" r="3.25"/><circle cx="383.1" cy="448.0" r="3.25"/><circle cx="378.1" cy="440.3" r="3.25"/><circle cx="442.1" cy="398.0" r="3.25"/><circle cx="423.4" cy="410.2" r="3.25"/><circle cx="361.3" cy="455.3" r="3.25"/><circle cx="358.2" cy="451.2" r="3.25"/><circle cx="414.7" cy="408.6" r="3.25"/><circle cx="424.2" cy="398.2" r="3.25"/><circle cx="437.4" cy="399.5" r="3.25"/><circle cx="324.0" cy="500.7" r="3.25"/><circle cx="431.7" cy="394.8" r="3.25"/><circle cx="440.0" cy="382.9" r="3.25"/><circle cx="332.6" cy="496.5" r="3.25"/><circle cx="416.1" cy="402.6" r="3.25"/><circle cx="334.3" cy="488.3" r="3.25"/><circle cx="438.1" cy="395.9" r="3.25"/><circle cx="337.9" cy="481.6" r="3.25"/><circle cx="335.9" cy="480.0" r="3.25"/><circle cx="418.3" cy="396.1" r="3.25"/><circle cx="390.2" cy="434.4" r="3.25"/><circle cx="346.5" cy="483.5" r="3.25"/><circle cx="339.5" cy="489.3" r="3.25"/><circle cx="337.8" cy="485.9" r="3.25"/><circle cx="349.2" cy="469.5" r="3.25"/><circle cx="438.9" cy="396.3" r="3.25"/><circle cx="360.0" cy="473.3" r="3.25"/><circle cx="348.9" cy="472.7" r="3.25"/><circle cx="425.1" cy="406.4" r="3.25"/><circle cx="335.8" cy="501.1" r="3.25"/><circle cx="349.2" cy="469.2" r="3.25"/><circle cx="415.4" cy="405.4" r="3.25"/><circle cx="359.0" cy="451.2" r="3.25"/><circle cx="334.6" cy="493.4" r="3.25"/><circle cx="352.7" cy="470.8" r="3.25"/><circle cx="368.0" cy="456.0" r="3.25"/><circle cx="437.5" cy="388.3" r="3.25"/><circle cx="392.0" cy="445.4" r="3.25"/><circle cx="345.6" cy="470.8" r="3.25"/><circle cx="431.5" cy="405.7" r="3.25"/><circle cx="353.5" cy="457.8" r="3.25"/><circle cx="411.5" cy="429.4" r="3.25"/><circle cx="347.2" cy="487.7" r="3.25"/><circle cx="428.4" cy="402.1" r="3.25"/><circle cx="373.9" cy="439.4" r="3.25"/><circle cx="328.5" cy="506.8" r="3.25"/><circle cx="352.2" cy="474.6" r="3.25"/><circle cx="354.4" cy="475.3" r="3.25"/><circle cx="394.6" cy="424.8" r="3.25"/><circle cx="344.7" cy="485.5" r="3.25"/><circle cx="332.1" cy="488.8" r="3.25"/><circle cx="390.2" cy="446.6" r="3.25"/><circle cx="396.7" cy="422.2" r="3.25"/><circle cx="432.6" cy="385.8" r="3.25"/><circle cx="325.9" cy="497.7" r="3.25"/><circle cx="376.7" cy="435.4" r="3.25"/><circle cx="344.8" cy="476.8" r="3.25"/><circle cx="391.7" cy="422.7" r="3.25"/><circle cx="366.8" cy="468.4" r="3.25"/><circle cx="440.1" cy="390.6" r="3.25"/><circle cx="405.8" cy="422.5" r="3.25"/><circle cx="340.6" cy="473.5" r="3.25"/><circle cx="326.1" cy="506.7" r="3.25"/><circle cx="407.0" cy="432.6" r="3.25"/><circle cx="326.5" cy="502.4" r="3.25"/><circle cx="381.1" cy="451.2" r="3.25"/><circle cx="361.7" cy="475.3" r="3.25"/><circle cx="332.9" cy="494.5" r="3.25"/><circle cx="411.2" cy="428.4" r="3.25"/><circle cx="411.2" cy="422.0" r="3.25"/><circle cx="417.9" cy="423.8" r="3.25"/><circle cx="365.6" cy="464.1" r="3.25"/><circle cx="430.6" cy="408.3" r="3.25"/><circle cx="373.4" cy="459.0" r="3.25"/><circle cx="426.2" cy="403.1" r="3.25"/><circle cx="398.0" cy="424.0" r="3.25"/><circle cx="393.0" cy="436.5" r="3.25"/><circle cx="333.5" cy="495.9" r="3.25"/><circle cx="441.6" cy="395.4" r="3.25"/><circle cx="410.2" cy="413.0" r="3.25"/><circle cx="411.0" cy="418.3" r="3.25"/><circle cx="376.1" cy="458.0" r="3.25"/><circle cx="333.9" cy="497.8" r="3.25"/><circle cx="327.5" cy="500.9" r="3.25"/><circle cx="380.9" cy="437.6" r="3.25"/><circle cx="406.6" cy="419.6" r="3.25"/><circle cx="396.7" cy="441.8" r="3.25"/><circle cx="354.3" cy="451.9" r="3.25"/><circle cx="359.6" cy="467.8" r="3.25"/><circle cx="347.9" cy="468.6" r="3.25"/><circle cx="431.2" cy="401.2" r="3.25"/><circle cx="376.3" cy="459.4" r="3.25"/><circle cx="362.7" cy="465.8" r="3.25"/><circle cx="347.5" cy="475.2" r="3.25"/><circle cx="419.4" cy="422.1" r="3.25"/><circle cx="428.2" cy="395.2" r="3.25"/><circle cx="393.0" cy="427.2" r="3.25"/><circle cx="340.1" cy="485.1" r="3.25"/><circle cx="423.1" cy="415.7" r="3.25"/><circle cx="408.2" cy="431.6" r="3.25"/><circle cx="356.7" cy="454.1" r="3.25"/><circle cx="377.3" cy="440.9" r="3.25"/><circle cx="349.3" cy="472.5" r="3.25"/><circle cx="398.0" cy="427.2" r="3.25"/><circle cx="361.3" cy="471.4" r="3.25"/><circle cx="440.2" cy="384.4" r="3.25"/><circle cx="332.8" cy="483.7" r="3.25"/><circle cx="427.3" cy="384.6" r="3.25"/><circle cx="407.9" cy="420.8" r="3.25"/><circle cx="360.6" cy="470.5" r="3.25"/><circle cx="326.2" cy="495.2" r="3.25"/><circle cx="377.8" cy="433.3" r="3.25"/><circle cx="422.2" cy="394.0" r="3.25"/><circle cx="340.6" cy="473.7" r="3.25"/><circle cx="398.5" cy="425.4" r="3.25"/><circle cx="398.5" cy="431.6" r="3.25"/><circle cx="419.6" cy="423.7" r="3.25"/><circle cx="405.0" cy="412.4" r="3.25"/><circle cx="380.2" cy="436.5" r="3.25"/><circle cx="325.2" cy="501.4" r="3.25"/><circle cx="408.5" cy="408.7" r="3.25"/><circle cx="356.2" cy="459.7" r="3.25"/><circle cx="406.5" cy="420.3" r="3.25"/><circle cx="396.7" cy="436.8" r="3.25"/><circle cx="370.6" cy="462.0" r="3.25"/><circle cx="431.3" cy="383.5" r="3.25"/><circle cx="434.4" cy="399.4" r="3.25"/><circle cx="339.3" cy="484.9" r="3.25"/><circle cx="398.0" cy="439.9" r="3.25"/><circle cx="368.6" cy="458.3" r="3.25"/><circle cx="428.1" cy="408.7" r="3.25"/><circle cx="435.8" cy="389.8" r="3.25"/><circle cx="401.1" cy="415.8" r="3.25"/><circle cx="409.4" cy="426.9" r="3.25"/><circle cx="399.9" cy="432.0" r="3.25"/><circle cx="349.2" cy="483.8" r="3.25"/><circle cx="440.1" cy="400.1" r="3.25"/><circle cx="387.5" cy="447.3" r="3.25"/><circle cx="361.9" cy="472.8" r="3.25"/><circle cx="425.3" cy="396.1" r="3.25"/><circle cx="333.8" cy="491.3" r="3.25"/><circle cx="389.1" cy="445.1" r="3.25"/><circle cx="381.7" cy="431.9" r="3.25"/><circle cx="419.8" cy="388.5" r="3.25"/><circle cx="418.7" cy="395.1" r="3.25"/><circle cx="363.6" cy="468.3" r="3.25"/><circle cx="340.6" cy="476.2" r="3.25"/><circle cx="385.1" cy="447.7" r="3.25"/><circle cx="423.4" cy="409.6" r="3.25"/><circle cx="435.9" cy="390.5" r="3.25"/><circle cx="436.3" cy="377.6" r="3.25"/><circle cx="350.2" cy="473.3" r="3.25"/><circle cx="358.3" cy="469.8" r="3.25"/><circle cx="399.6" cy="426.5" r="3.25"/><circle cx="423.8" cy="404.6" r="3.25"/><circle cx="360.9" cy="459.4" r="3.25"/><circle cx="424.0" cy="416.5" r="3.25"/><circle cx="348.6" cy="483.5" r="3.25"/><circle cx="438.6" cy="388.1" r="3.25"/><circle cx="391.8" cy="424.8" r="3.25"/><circle cx="387.4" cy="439.3" r="3.25"/><circle cx="395.6" cy="415.5" r="3.25"/><circle cx="438.7" cy="387.7" r="3.25"/><circle cx="371.4" cy="461.3" r="3.25"/><circle cx="390.6" cy="435.2" r="3.25"/><circle cx="405.8" cy="408.1" r="3.25"/><circle cx="387.7" cy="436.4" r="3.25"/><circle cx="437.3" cy="402.0" r="3.25"/><circle cx="355.8" cy="463.7" r="3.25"/><circle cx="339.0" cy="484.8" r="3.25"/><circle cx="420.5" cy="420.3" r="3.25"/><circle cx="380.4" cy="440.3" r="3.25"/><circle cx="346.6" cy="480.6" r="3.25"/><circle cx="433.5" cy="382.4" r="3.25"/><circle cx="416.2" cy="393.9" r="3.25"/><circle cx="346.9" cy="466.1" r="3.25"/><circle cx="366.0" cy="470.9" r="3.25"/><circle cx="336.4" cy="499.8" r="3.25"/><circle cx="353.6" cy="453.2" r="3.25"/><circle cx="386.8" cy="426.9" r="3.25"/><circle cx="386.6" cy="427.0" r="3.25"/><circle cx="348.1" cy="486.6" r="3.25"/><circle cx="424.8" cy="418.0" r="3.25"/><circle cx="425.4" cy="384.2" r="3.25"/><circle cx="430.8" cy="383.2" r="3.25"/><circle cx="361.3" cy="474.8" r="3.25"/><circle cx="429.0" cy="386.3" r="3.25"/><circle cx="352.3" cy="482.5" r="3.25"/><circle cx="422.5" cy="385.6" r="3.25"/><circle cx="417.5" cy="393.0" r="3.25"/><circle cx="326.1" cy="494.6" r="3.25"/><circle cx="404.8" cy="434.0" r="3.25"/><circle cx="383.8" cy="456.2" r="3.25"/><circle cx="383.5" cy="456.4" r="3.25"/><circle cx="336.5" cy="478.2" r="3.25"/><circle cx="389.3" cy="451.2" r="3.25"/><circle cx="345.8" cy="467.1" r="3.25"/><circle cx="423.4" cy="420.2" r="3.25"/><circle cx="331.3" cy="505.1" r="3.25"/><circle cx="378.7" cy="459.9" r="3.25"/><circle cx="385.0" cy="429.4" r="3.25"/><circle cx="395.1" cy="415.9" r="3.25"/><circle cx="345.4" cy="469.4" r="3.25"/><circle cx="411.5" cy="399.1" r="3.25"/><circle cx="384.6" cy="429.3" r="3.25"/><circle cx="429.7" cy="412.7" r="3.25"/><circle cx="398.5" cy="414.1" r="3.25"/><circle cx="395.0" cy="444.2" r="3.25"/><circle cx="354.5" cy="480.0" r="3.25"/><circle cx="412.1" cy="430.5" r="3.25"/><circle cx="430.1" cy="411.8" r="3.25"/><circle cx="406.2" cy="433.8" r="3.25"/><circle cx="409.5" cy="403.1" r="3.25"/><circle cx="364.4" cy="448.4" r="3.25"/><circle cx="399.6" cy="440.7" r="3.25"/><circle cx="351.4" cy="482.8" r="3.25"/><circle cx="402.1" cy="436.8" r="3.25"/><circle cx="387.1" cy="427.3" r="3.25"/><circle cx="407.0" cy="433.6" r="3.25"/><circle cx="440.0" cy="372.5" r="3.25"/><circle cx="354.3" cy="452.8" r="3.25"/><circle cx="329.9" cy="487.5" r="3.25"/><circle cx="353.7" cy="480.8" r="3.25"/><circle cx="389.1" cy="450.4" r="3.25"/><circle cx="441.8" cy="398.2" r="3.25"/><circle cx="419.8" cy="387.6" r="3.25"/><circle cx="329.3" cy="505.7" r="3.25"/><circle cx="342.9" cy="470.5" r="3.25"/><circle cx="396.3" cy="415.2" r="3.25"/><circle cx="435.9" cy="377.1" r="3.25"/><circle cx="367.2" cy="445.5" r="3.25"/><circle cx="401.5" cy="438.0" r="3.25"/><circle cx="359.0" cy="451.1" r="3.25"/><circle cx="353.0" cy="454.4" r="3.25"/><circle cx="370.1" cy="466.3" r="3.25"/><circle cx="412.6" cy="400.3" r="3.25"/><circle cx="332.7" cy="504.0" r="3.25"/><circle cx="374.8" cy="436.4" r="3.25"/><circle cx="385.9" cy="454.4" r="3.25"/><circle cx="409.5" cy="404.0" r="3.25"/><circle cx="395.4" cy="415.2" r="3.25"/><circle cx="397.9" cy="412.5" r="3.25"/><circle cx="386.5" cy="426.7" r="3.25"/><circle cx="376.4" cy="461.5" r="3.25"/><circle cx="392.9" cy="417.7" r="3.25"/><circle cx="416.1" cy="425.1" r="3.25"/><circle cx="410.9" cy="399.8" r="3.25"/><circle cx="337.4" cy="499.4" r="3.25"/><circle cx="366.5" cy="447.6" r="3.25"/><circle cx="405.1" cy="433.0" r="3.25"/><circle cx="413.2" cy="397.7" r="3.25"/><circle cx="353.4" cy="479.2" r="3.25"/><circle cx="328.6" cy="490.1" r="3.25"/><circle cx="356.0" cy="450.2" r="3.25"/><circle cx="388.1" cy="424.5" r="3.25"/><circle cx="334.2" cy="501.4" r="3.25"/><circle cx="368.1" cy="444.5" r="3.25"/><circle cx="348.9" cy="463.8" r="3.25"/><circle cx="332.8" cy="485.4" r="3.25"/><circle cx="419.8" cy="425.0" r="3.25"/><circle cx="374.2" cy="437.0" r="3.25"/><circle cx="419.9" cy="388.0" r="3.25"/><circle cx="362.5" cy="471.8" r="3.25"/><circle cx="412.3" cy="429.8" r="3.25"/><circle cx="335.4" cy="501.2" r="3.25"/><circle cx="333.3" cy="483.7" r="3.25"/><circle cx="405.1" cy="407.3" r="3.25"/><circle cx="415.8" cy="394.0" r="3.25"/><circle cx="333.6" cy="483.6" r="3.25"/><circle cx="409.8" cy="432.2" r="3.25"/><circle cx="366.3" cy="471.0" r="3.25"/><circle cx="367.3" cy="445.5" r="3.25"/><circle cx="432.7" cy="408.4" r="3.25"/><circle cx="432.1" cy="380.5" r="3.25"/><circle cx="361.6" cy="450.0" r="3.25"/><circle cx="434.6" cy="407.5" r="3.25"/><circle cx="367.2" cy="446.4" r="3.25"/><circle cx="370.8" cy="440.8" r="3.25"/><circle cx="418.3" cy="425.0" r="3.25"/><circle cx="423.0" cy="420.4" r="3.25"/><circle cx="428.3" cy="384.4" r="3.25"/><circle cx="326.6" cy="506.4" r="3.25"/><circle cx="438.4" cy="402.5" r="3.25"/><circle cx="419.2" cy="389.0" r="3.25"/><circle cx="333.9" cy="482.1" r="3.25"/><circle cx="411.2" cy="430.1" r="3.25"/><circle cx="341.0" cy="495.3" r="3.25"/><circle cx="400.8" cy="410.4" r="3.25"/><circle cx="385.7" cy="452.7" r="3.25"/><circle cx="370.7" cy="442.2" r="3.25"/><circle cx="382.4" cy="457.1" r="3.25"/><circle cx="409.3" cy="431.5" r="3.25"/><circle cx="421.8" cy="422.0" r="3.25"/><circle cx="425.0" cy="417.6" r="3.25"/><circle cx="437.4" cy="402.0" r="3.25"/><circle cx="386.0" cy="454.1" r="3.25"/><circle cx="373.7" cy="437.8" r="3.25"/><circle cx="411.7" cy="430.7" r="3.25"/><circle cx="348.2" cy="465.0" r="3.25"/><circle cx="358.5" cy="476.3" r="3.25"/><circle cx="337.6" cy="499.3" r="3.25"/><circle cx="415.8" cy="394.8" r="3.25"/><circle cx="393.1" cy="448.1" r="3.25"/><circle cx="328.3" cy="489.7" r="3.25"/><circle cx="351.8" cy="482.2" r="3.25"/><circle cx="394.4" cy="416.3" r="3.25"/><circle cx="344.4" cy="491.9" r="3.25"/><circle cx="360.9" cy="475.3" r="3.25"/><circle cx="354.8" cy="478.8" r="3.25"/><circle cx="432.2" cy="382.9" r="3.25"/><circle cx="381.1" cy="432.2" r="3.25"/><circle cx="329.8" cy="506.1" r="3.25"/><circle cx="386.4" cy="453.0" r="3.25"/><circle cx="356.5" cy="478.1" r="3.25"/><circle cx="325.2" cy="496.1" r="3.25"/><circle cx="324.5" cy="509.2" r="3.25"/><circle cx="327.4" cy="510.2" r="3.25"/><circle cx="326.0" cy="508.0" r="3.25"/><circle cx="330.4" cy="509.5" r="3.25"/><circle cx="456.3" cy="375.2" r="3.25"/><circle cx="463.9" cy="362.0" r="3.25"/><circle cx="437.8" cy="384.6" r="3.25"/><circle cx="448.3" cy="388.6" r="3.25"/><circle cx="464.9" cy="369.5" r="3.25"/><circle cx="459.6" cy="372.7" r="3.25"/><circle cx="443.2" cy="382.1" r="3.25"/><circle cx="443.8" cy="393.4" r="3.25"/><circle cx="439.7" cy="395.7" r="3.25"/><circle cx="440.4" cy="391.2" r="3.25"/><circle cx="450.8" cy="376.8" r="3.25"/><circle cx="470.9" cy="357.2" r="3.25"/><circle cx="439.8" cy="398.5" r="3.25"/><circle cx="457.6" cy="364.6" r="3.25"/><circle cx="476.7" cy="367.4" r="3.25"/><circle cx="441.9" cy="382.5" r="3.25"/><circle cx="442.8" cy="379.0" r="3.25"/><circle cx="462.1" cy="363.0" r="3.25"/><circle cx="465.1" cy="360.1" r="3.25"/><circle cx="444.2" cy="390.7" r="3.25"/><circle cx="453.3" cy="374.6" r="3.25"/><circle cx="461.1" cy="368.8" r="3.25"/><circle cx="452.7" cy="367.8" r="3.25"/><circle cx="466.3" cy="374.9" r="3.25"/><circle cx="476.2" cy="363.7" r="3.25"/><circle cx="451.6" cy="375.2" r="3.25"/><circle cx="464.9" cy="370.8" r="3.25"/><circle cx="441.9" cy="377.3" r="3.25"/><circle cx="451.8" cy="377.9" r="3.25"/><circle cx="469.6" cy="365.5" r="3.25"/><circle cx="438.5" cy="397.4" r="3.25"/><circle cx="454.5" cy="375.1" r="3.25"/><circle cx="446.2" cy="380.5" r="3.25"/><circle cx="452.8" cy="381.8" r="3.25"/><circle cx="441.5" cy="386.3" r="3.25"/><circle cx="444.5" cy="387.6" r="3.25"/><circle cx="438.9" cy="380.3" r="3.25"/><circle cx="451.1" cy="381.3" r="3.25"/><circle cx="439.5" cy="385.1" r="3.25"/><circle cx="445.7" cy="377.1" r="3.25"/><circle cx="456.3" cy="380.1" r="3.25"/><circle cx="456.5" cy="379.7" r="3.25"/><circle cx="444.1" cy="393.6" r="3.25"/><circle cx="451.9" cy="371.5" r="3.25"/><circle cx="467.2" cy="373.5" r="3.25"/><circle cx="437.7" cy="381.5" r="3.25"/><circle cx="468.1" cy="363.7" r="3.25"/><circle cx="447.0" cy="370.3" r="3.25"/><circle cx="439.0" cy="390.6" r="3.25"/><circle cx="476.5" cy="368.2" r="3.25"/><circle cx="457.4" cy="363.7" r="3.25"/><circle cx="450.2" cy="385.6" r="3.25"/><circle cx="470.5" cy="367.2" r="3.25"/><circle cx="446.5" cy="382.8" r="3.25"/><circle cx="456.4" cy="374.5" r="3.25"/><circle cx="447.8" cy="392.2" r="3.25"/><circle cx="473.0" cy="358.4" r="3.25"/><circle cx="449.0" cy="389.1" r="3.25"/><circle cx="448.5" cy="391.5" r="3.25"/><circle cx="457.9" cy="374.3" r="3.25"/><circle cx="465.4" cy="362.7" r="3.25"/><circle cx="448.7" cy="375.4" r="3.25"/><circle cx="464.6" cy="371.2" r="3.25"/><circle cx="442.6" cy="394.3" r="3.25"/><circle cx="454.1" cy="370.6" r="3.25"/><circle cx="454.7" cy="382.9" r="3.25"/><circle cx="459.7" cy="372.1" r="3.25"/><circle cx="474.0" cy="369.8" r="3.25"/><circle cx="467.7" cy="365.1" r="3.25"/><circle cx="460.8" cy="376.3" r="3.25"/><circle cx="468.8" cy="367.2" r="3.25"/><circle cx="451.2" cy="375.6" r="3.25"/><circle cx="466.7" cy="368.0" r="3.25"/><circle cx="438.1" cy="394.5" r="3.25"/><circle cx="473.4" cy="367.8" r="3.25"/><circle cx="473.1" cy="369.6" r="3.25"/><circle cx="458.7" cy="375.4" r="3.25"/><circle cx="452.5" cy="369.2" r="3.25"/><circle cx="451.4" cy="374.3" r="3.25"/><circle cx="474.6" cy="365.3" r="3.25"/><circle cx="458.9" cy="372.5" r="3.25"/><circle cx="442.3" cy="385.2" r="3.25"/><circle cx="465.3" cy="365.8" r="3.25"/><circle cx="447.2" cy="379.7" r="3.25"/><circle cx="450.3" cy="383.3" r="3.25"/><circle cx="443.0" cy="373.0" r="3.25"/><circle cx="449.8" cy="384.1" r="3.25"/><circle cx="467.6" cy="369.1" r="3.25"/><circle cx="474.6" cy="360.5" r="3.25"/><circle cx="438.6" cy="387.1" r="3.25"/><circle cx="455.0" cy="368.5" r="3.25"/><circle cx="463.9" cy="365.4" r="3.25"/><circle cx="446.9" cy="377.9" r="3.25"/><circle cx="474.9" cy="355.0" r="3.25"/><circle cx="451.7" cy="373.4" r="3.25"/><circle cx="445.4" cy="370.8" r="3.25"/><circle cx="457.3" cy="376.9" r="3.25"/><circle cx="443.8" cy="372.3" r="3.25"/><circle cx="447.3" cy="371.5" r="3.25"/><circle cx="471.4" cy="372.1" r="3.25"/><circle cx="467.7" cy="359.8" r="3.25"/><circle cx="464.2" cy="375.1" r="3.25"/><circle cx="464.5" cy="359.7" r="3.25"/><circle cx="466.5" cy="359.8" r="3.25"/><circle cx="449.6" cy="369.1" r="3.25"/><circle cx="446.4" cy="394.2" r="3.25"/><circle cx="469.4" cy="358.1" r="3.25"/><circle cx="474.6" cy="368.0" r="3.25"/><circle cx="473.1" cy="357.4" r="3.25"/><circle cx="442.4" cy="396.8" r="3.25"/><circle cx="468.6" cy="359.4" r="3.25"/><circle cx="462.0" cy="361.2" r="3.25"/><circle cx="452.7" cy="367.9" r="3.25"/><circle cx="469.5" cy="357.9" r="3.25"/><circle cx="476.0" cy="367.8" r="3.25"/><circle cx="439.5" cy="399.9" r="3.25"/><circle cx="451.7" cy="386.3" r="3.25"/><circle cx="449.5" cy="370.6" r="3.25"/><circle cx="445.8" cy="392.7" r="3.25"/><circle cx="438.4" cy="373.2" r="3.25"/><circle cx="443.9" cy="395.7" r="3.25"/><circle cx="449.2" cy="369.7" r="3.25"/><circle cx="471.7" cy="371.1" r="3.25"/><circle cx="441.5" cy="397.6" r="3.25"/><circle cx="458.4" cy="378.8" r="3.25"/><circle cx="490.8" cy="334.9" r="3.25"/><circle cx="498.8" cy="333.2" r="3.25"/><circle cx="506.8" cy="337.8" r="3.25"/><circle cx="501.1" cy="340.7" r="3.25"/><circle cx="504.5" cy="344.7" r="3.25"/><circle cx="496.5" cy="339.5" r="3.25"/><circle cx="491.9" cy="343.0" r="3.25"/><circle cx="497.7" cy="346.4" r="3.25"/><circle cx="493.7" cy="348.7" r="3.25"/><circle cx="488.5" cy="346.4" r="3.25"/><circle cx="481.2" cy="343.0" r="3.25"/><circle cx="477.1" cy="345.8" r="3.25"/><circle cx="484.0" cy="348.7" r="3.25"/><circle cx="476.0" cy="349.8" r="3.25"/><circle cx="489.7" cy="355.6" r="3.25"/><circle cx="480.6" cy="356.7" r="3.25"/><circle cx="485.1" cy="353.3" r="3.25"/><circle cx="472.5" cy="359.0" r="3.25"/><circle cx="465.7" cy="356.7" r="3.25"/><circle cx="461.2" cy="357.9" r="3.25"/><circle cx="468.0" cy="361.3" r="3.25"/><circle cx="477.1" cy="357.9" r="3.25"/><circle cx="500.6" cy="383.1" r="3.25"/><circle cx="512.0" cy="375.5" r="3.25"/><circle cx="466.8" cy="404.5" r="3.25"/><circle cx="456.6" cy="411.8" r="3.25"/><circle cx="424.6" cy="436.2" r="3.25"/><circle cx="424.0" cy="437.5" r="3.25"/><circle cx="419.5" cy="429.9" r="3.25"/><circle cx="412.6" cy="436.2" r="3.25"/><circle cx="442.6" cy="369.8" r="3.25"/><circle cx="442.0" cy="369.2" r="3.25"/><circle cx="491.3" cy="334.9" r="3.25"/><circle cx="498.2" cy="333.4" r="3.25"/><circle cx="505.9" cy="338.0" r="3.25"/><circle cx="507.4" cy="341.0" r="3.25"/><circle cx="501.3" cy="340.3" r="3.25"/><circle cx="495.2" cy="338.8" r="3.25"/><circle cx="504.3" cy="344.1" r="3.25"/><circle cx="496.7" cy="344.9" r="3.25"/><circle cx="490.6" cy="342.6" r="3.25"/><circle cx="484.5" cy="342.6" r="3.25"/><circle cx="479.9" cy="344.9" r="3.25"/><circle cx="476.0" cy="347.2" r="3.25"/><circle cx="472.2" cy="349.5" r="3.25"/><circle cx="478.3" cy="349.5" r="3.25"/><circle cx="482.9" cy="348.7" r="3.25"/><circle cx="487.5" cy="348.7" r="3.25"/><circle cx="492.1" cy="347.2" r="3.25"/><circle cx="498.2" cy="347.2" r="3.25"/><circle cx="475.3" cy="353.3" r="3.25"/><circle cx="479.9" cy="354.8" r="3.25"/><circle cx="484.5" cy="352.5" r="3.25"/><circle cx="489.8" cy="354.8" r="3.25"/><circle cx="478.3" cy="357.1" r="3.25"/><circle cx="470.7" cy="354.8" r="3.25"/><circle cx="466.1" cy="357.9" r="3.25"/><circle cx="461.5" cy="357.9" r="3.25"/><circle cx="464.6" cy="362.5" r="3.25"/><circle cx="458.5" cy="362.5" r="3.25"/><circle cx="469.2" cy="365.5" r="3.25"/><circle cx="473.8" cy="368.6" r="3.25"/><circle cx="472.2" cy="371.6" r="3.25"/><circle cx="466.1" cy="373.2" r="3.25"/><circle cx="467.6" cy="376.2" r="3.25"/><circle cx="456.9" cy="367.0" r="3.25"/><circle cx="453.9" cy="370.1" r="3.25"/><circle cx="460.0" cy="373.2" r="3.25"/><circle cx="455.4" cy="381.7" r="3.25"/><circle cx="449.3" cy="373.2" r="3.25"/><circle cx="442.4" cy="369.8" r="3.25"/><circle cx="442.9" cy="370.3" r="3.25"/><circle cx="447.8" cy="380.8" r="3.25"/><circle cx="443.2" cy="383.9" r="3.25"/><circle cx="453.9" cy="383.9" r="3.25"/><circle cx="341.6" cy="486.9" r="3.25"/><circle cx="370.7" cy="454.6" r="3.25"/><circle cx="344.8" cy="484.9" r="3.25"/><circle cx="381.4" cy="443.8" r="3.25"/><circle cx="362.7" cy="456.7" r="3.25"/><circle cx="331.6" cy="494.7" r="3.25"/><circle cx="367.6" cy="448.9" r="3.25"/><circle cx="380.5" cy="440.9" r="3.25"/><circle cx="345.8" cy="471.6" r="3.25"/><circle cx="393.1" cy="436.8" r="3.25"/><circle cx="385.5" cy="442.7" r="3.25"/><circle cx="333.5" cy="492.6" r="3.25"/><circle cx="362.2" cy="455.2" r="3.25"/><circle cx="390.3" cy="434.8" r="3.25"/><circle cx="341.0" cy="489.8" r="3.25"/><circle cx="339.2" cy="493.9" r="3.25"/><circle cx="359.5" cy="463.9" r="3.25"/><circle cx="352.6" cy="470.2" r="3.25"/><circle cx="343.0" cy="474.4" r="3.25"/><circle cx="385.0" cy="437.1" r="3.25"/><circle cx="379.7" cy="441.5" r="3.25"/><circle cx="391.3" cy="440.3" r="3.25"/><circle cx="378.1" cy="450.3" r="3.25"/><circle cx="367.3" cy="461.4" r="3.25"/><circle cx="339.0" cy="486.5" r="3.25"/><circle cx="382.6" cy="438.5" r="3.25"/><circle cx="388.5" cy="443.4" r="3.25"/><circle cx="356.8" cy="462.9" r="3.25"/><circle cx="359.3" cy="461.3" r="3.25"/><circle cx="392.9" cy="433.3" r="3.25"/><circle cx="333.1" cy="490.8" r="3.25"/><circle cx="375.8" cy="455.5" r="3.25"/><circle cx="362.1" cy="461.3" r="3.25"/><circle cx="365.5" cy="463.1" r="3.25"/><circle cx="345.2" cy="481.5" r="3.25"/><circle cx="365.8" cy="460.6" r="3.25"/><circle cx="342.6" cy="477.0" r="3.25"/><circle cx="353.0" cy="478.2" r="3.25"/><circle cx="352.9" cy="472.0" r="3.25"/><circle cx="350.4" cy="467.6" r="3.25"/><circle cx="335.5" cy="495.5" r="3.25"/><circle cx="379.5" cy="443.8" r="3.25"/><circle cx="373.7" cy="453.6" r="3.25"/><circle cx="387.0" cy="446.2" r="3.25"/><circle cx="356.6" cy="473.5" r="3.25"/><circle cx="390.9" cy="437.1" r="3.25"/><circle cx="386.0" cy="440.4" r="3.25"/><circle cx="354.7" cy="462.7" r="3.25"/><circle cx="385.6" cy="435.7" r="3.25"/><circle cx="335.7" cy="495.2" r="3.25"/><circle cx="379.3" cy="445.4" r="3.25"/><circle cx="383.2" cy="435.7" r="3.25"/><circle cx="347.4" cy="473.9" r="3.25"/><circle cx="357.4" cy="459.1" r="3.25"/><circle cx="335.7" cy="488.7" r="3.25"/><circle cx="387.0" cy="446.6" r="3.25"/><circle cx="377.6" cy="447.2" r="3.25"/><circle cx="347.0" cy="484.9" r="3.25"/><circle cx="363.9" cy="463.8" r="3.25"/><circle cx="333.2" cy="491.8" r="3.25"/><circle cx="383.3" cy="446.6" r="3.25"/><circle cx="385.9" cy="442.2" r="3.25"/><circle cx="357.8" cy="465.4" r="3.25"/><circle cx="384.0" cy="438.9" r="3.25"/><circle cx="364.5" cy="455.6" r="3.25"/><circle cx="378.9" cy="439.7" r="3.25"/><circle cx="373.8" cy="457.0" r="3.25"/><circle cx="332.9" cy="495.6" r="3.25"/><circle cx="371.2" cy="459.6" r="3.25"/><circle cx="367.6" cy="452.5" r="3.25"/><circle cx="356.5" cy="473.2" r="3.25"/><circle cx="387.4" cy="433.9" r="3.25"/><circle cx="337.3" cy="482.8" r="3.25"/><circle cx="333.0" cy="494.1" r="3.25"/><circle cx="340.1" cy="491.7" r="3.25"/><circle cx="372.0" cy="447.9" r="3.25"/><circle cx="364.7" cy="456.2" r="3.25"/><circle cx="362.0" cy="457.1" r="3.25"/><circle cx="341.7" cy="478.2" r="3.25"/><circle cx="354.8" cy="471.3" r="3.25"/><circle cx="365.4" cy="450.6" r="3.25"/><circle cx="375.4" cy="454.4" r="3.25"/><circle cx="379.3" cy="449.4" r="3.25"/><circle cx="331.9" cy="495.2" r="3.25"/><circle cx="335.4" cy="495.0" r="3.25"/><circle cx="342.3" cy="491.4" r="3.25"/><circle cx="350.8" cy="466.7" r="3.25"/><circle cx="355.5" cy="458.3" r="3.25"/><circle cx="362.5" cy="468.6" r="3.25"/><circle cx="390.1" cy="431.4" r="3.25"/><circle cx="376.9" cy="453.8" r="3.25"/><circle cx="350.6" cy="480.6" r="3.25"/><circle cx="335.4" cy="497.8" r="3.25"/><circle cx="391.8" cy="431.0" r="3.25"/><circle cx="338.1" cy="483.1" r="3.25"/><circle cx="336.0" cy="497.7" r="3.25"/><circle cx="369.9" cy="448.0" r="3.25"/><circle cx="371.3" cy="447.4" r="3.25"/><circle cx="356.3" cy="457.2" r="3.25"/><circle cx="334.5" cy="487.3" r="3.25"/><circle cx="382.0" cy="448.5" r="3.25"/><circle cx="359.6" cy="455.9" r="3.25"/><circle cx="370.5" cy="463.0" r="3.25"/><circle cx="336.7" cy="484.1" r="3.25"/><circle cx="386.5" cy="447.5" r="3.25"/><circle cx="370.2" cy="463.3" r="3.25"/><circle cx="374.7" cy="454.9" r="3.25"/><circle cx="346.6" cy="484.9" r="3.25"/><circle cx="382.4" cy="449.0" r="3.25"/><circle cx="392.6" cy="429.7" r="3.25"/><circle cx="355.6" cy="458.3" r="3.25"/><circle cx="365.6" cy="450.4" r="3.25"/><circle cx="377.3" cy="443.7" r="3.25"/><circle cx="338.1" cy="496.2" r="3.25"/><circle cx="352.2" cy="479.7" r="3.25"/><circle cx="373.6" cy="445.8" r="3.25"/><circle cx="347.2" cy="485.1" r="3.25"/><circle cx="340.9" cy="492.6" r="3.25"/><circle cx="348.6" cy="469.5" r="3.25"/><circle cx="389.6" cy="432.0" r="3.25"/><circle cx="348.8" cy="468.5" r="3.25"/><circle cx="355.2" cy="458.7" r="3.25"/><circle cx="333.6" cy="496.4" r="3.25"/><circle cx="389.2" cy="442.8" r="3.25"/><circle cx="333.9" cy="498.6" r="3.25"/><circle cx="374.7" cy="445.1" r="3.25"/><circle cx="337.3" cy="481.5" r="3.25"/><circle cx="359.5" cy="470.6" r="3.25"/><circle cx="380.4" cy="450.6" r="3.25"/><circle cx="364.2" cy="451.6" r="3.25"/><circle cx="365.6" cy="450.6" r="3.25"/><circle cx="381.0" cy="448.6" r="3.25"/><circle cx="332.5" cy="498.4" r="3.25"/><circle cx="336.4" cy="497.5" r="3.25"/><circle cx="343.1" cy="475.5" r="3.25"/><circle cx="381.8" cy="449.4" r="3.25"/><circle cx="380.9" cy="438.2" r="3.25"/><circle cx="348.1" cy="469.0" r="3.25"/><circle cx="386.5" cy="434.0" r="3.25"/><circle cx="335.6" cy="497.6" r="3.25"/><circle cx="332.1" cy="492.3" r="3.25"/><circle cx="326.2" cy="502.8" r="3.25"/><circle cx="327.2" cy="497.3" r="3.25"/><circle cx="330.1" cy="495.8" r="3.25"/><circle cx="331.6" cy="493.5" r="3.25"/><circle cx="332.1" cy="493.8" r="3.25"/><circle cx="329.8" cy="499.8" r="3.25"/><circle cx="330.5" cy="495.1" r="3.25"/><circle cx="331.6" cy="499.7" r="3.25"/><circle cx="331.4" cy="499.4" r="3.25"/><circle cx="324.9" cy="499.7" r="3.25"/><circle cx="327.5" cy="495.1" r="3.25"/><circle cx="337.3" cy="478.2" r="3.25"/><circle cx="340.8" cy="473.5" r="3.25"/><circle cx="345.5" cy="469.4" r="3.25"/><circle cx="353.2" cy="482.7" r="3.25"/><circle cx="337.3" cy="499.2" r="3.25"/><circle cx="355.8" cy="456.6" r="3.25"/><circle cx="356.4" cy="454.8" r="3.25"/><circle cx="362.1" cy="451.6" r="3.25"/><circle cx="367.7" cy="444.5" r="3.25"/><circle cx="371.8" cy="443.5" r="3.25"/><circle cx="386.7" cy="428.0" r="3.25"/><circle cx="370.3" cy="468.1" r="3.25"/><circle cx="385.2" cy="453.2" r="3.25"/><circle cx="396.0" cy="414.4" r="3.25"/><circle cx="386.5" cy="428.3" r="3.25"/><circle cx="407.0" cy="432.8" r="3.25"/><circle cx="385.1" cy="453.3" r="3.25"/><circle cx="368.0" cy="444.5" r="3.25"/><circle cx="416.0" cy="398.2" r="3.25"/><circle cx="421.2" cy="398.2" r="3.25"/><circle cx="424.3" cy="396.2" r="3.25"/><circle cx="420.7" cy="401.3" r="3.25"/><circle cx="430.9" cy="402.3" r="3.25"/><circle cx="410.9" cy="407.5" r="3.25"/><circle cx="415.0" cy="408.4" r="3.25"/><circle cx="419.2" cy="409.5" r="3.25"/><circle cx="423.3" cy="408.4" r="3.25"/><circle cx="426.3" cy="410.1" r="3.25"/><circle cx="414.0" cy="410.5" r="3.25"/><circle cx="397.0" cy="414.6" r="3.25"/><circle cx="405.3" cy="414.1" r="3.25"/><circle cx="406.8" cy="417.8" r="3.25"/><circle cx="411.9" cy="418.8" r="3.25"/><circle cx="417.1" cy="414.6" r="3.25"/><circle cx="402.7" cy="421.8" r="3.25"/><circle cx="406.8" cy="423.9" r="3.25"/><circle cx="394.4" cy="425.9" r="3.25"/><circle cx="398.6" cy="423.9" r="3.25"/><circle cx="386.3" cy="428.5" r="3.25"/><circle cx="406.8" cy="433.2" r="3.25"/><circle cx="391.4" cy="431.1" r="3.25"/><circle cx="400.6" cy="429.1" r="3.25"/><circle cx="455.9" cy="369.5" r="3.25"/><circle cx="450.1" cy="374.9" r="3.25"/><circle cx="441.8" cy="378.9" r="3.25"/><circle cx="434.9" cy="390.0" r="3.25"/><circle cx="438.3" cy="395.8" r="3.25"/><circle cx="432.5" cy="399.8" r="3.25"/><circle cx="432.1" cy="402.7" r="3.25"/><circle cx="403.2" cy="423.2" r="3.25"/><circle cx="395.4" cy="426.1" r="3.25"/><circle cx="400.3" cy="428.1" r="3.25"/><circle cx="393.4" cy="430.0" r="3.25"/><circle cx="408.1" cy="432.0" r="3.25"/><circle cx="388.8" cy="433.6" r="3.25"/><circle cx="391.5" cy="437.2" r="3.25"/><circle cx="380.7" cy="439.0" r="3.25"/><circle cx="384.3" cy="435.4" r="3.25"/><circle cx="327.3" cy="494.0" r="3.25"/><circle cx="357.9" cy="469.3" r="3.25"/><circle cx="337.4" cy="481.6" r="3.25"/><circle cx="344.9" cy="487.0" r="3.25"/><circle cx="338.1" cy="492.4" r="3.25"/><circle cx="379.6" cy="441.0" r="3.25"/><circle cx="369.4" cy="453.6" r="3.25"/><circle cx="359.5" cy="473.2" r="3.25"/><circle cx="333.8" cy="483.6" r="3.25"/><circle cx="401.9" cy="423.6" r="3.25"/><circle cx="342.3" cy="481.1" r="3.25"/><circle cx="355.7" cy="475.6" r="3.25"/><circle cx="343.2" cy="477.9" r="3.25"/><circle cx="373.4" cy="451.9" r="3.25"/><circle cx="403.1" cy="429.6" r="3.25"/><circle cx="354.9" cy="463.7" r="3.25"/><circle cx="393.6" cy="441.3" r="3.25"/><circle cx="328.7" cy="497.4" r="3.25"/><circle cx="396.2" cy="431.8" r="3.25"/><circle cx="343.9" cy="489.1" r="3.25"/><circle cx="385.0" cy="436.5" r="3.25"/><circle cx="377.9" cy="443.8" r="3.25"/><circle cx="329.6" cy="494.7" r="3.25"/><circle cx="353.2" cy="468.9" r="3.25"/><circle cx="378.4" cy="453.6" r="3.25"/><circle cx="403.7" cy="431.2" r="3.25"/><circle cx="406.3" cy="426.8" r="3.25"/><circle cx="350.9" cy="468.0" r="3.25"/><circle cx="376.5" cy="450.0" r="3.25"/><circle cx="380.6" cy="439.3" r="3.25"/><circle cx="341.8" cy="493.2" r="3.25"/><circle cx="374.7" cy="453.5" r="3.25"/><circle cx="334.0" cy="489.1" r="3.25"/><circle cx="399.6" cy="429.3" r="3.25"/><circle cx="406.1" cy="418.6" r="3.25"/><circle cx="362.9" cy="466.4" r="3.25"/><circle cx="362.1" cy="467.1" r="3.25"/><circle cx="371.5" cy="446.4" r="3.25"/><circle cx="334.2" cy="497.8" r="3.25"/><circle cx="335.9" cy="484.4" r="3.25"/><circle cx="353.3" cy="474.1" r="3.25"/><circle cx="395.0" cy="429.6" r="3.25"/><circle cx="366.4" cy="462.6" r="3.25"/><circle cx="348.7" cy="474.1" r="3.25"/><circle cx="375.6" cy="452.0" r="3.25"/><circle cx="329.3" cy="493.4" r="3.25"/><circle cx="337.4" cy="492.6" r="3.25"/><circle cx="382.1" cy="453.5" r="3.25"/><circle cx="388.1" cy="434.2" r="3.25"/><circle cx="387.9" cy="446.1" r="3.25"/><circle cx="354.4" cy="461.2" r="3.25"/><circle cx="356.5" cy="463.5" r="3.25"/><circle cx="340.5" cy="477.4" r="3.25"/><circle cx="336.3" cy="495.4" r="3.25"/><circle cx="330.3" cy="496.0" r="3.25"/><circle cx="342.9" cy="477.7" r="3.25"/><circle cx="392.4" cy="430.3" r="3.25"/><circle cx="341.1" cy="484.7" r="3.25"/><circle cx="382.2" cy="445.4" r="3.25"/><circle cx="395.5" cy="427.4" r="3.25"/><circle cx="368.5" cy="459.0" r="3.25"/><circle cx="363.4" cy="464.4" r="3.25"/><circle cx="363.9" cy="453.7" r="3.25"/><circle cx="336.2" cy="494.0" r="3.25"/><circle cx="386.2" cy="447.3" r="3.25"/><circle cx="381.8" cy="446.7" r="3.25"/><circle cx="339.7" cy="493.4" r="3.25"/><circle cx="335.8" cy="488.2" r="3.25"/><circle cx="337.6" cy="486.3" r="3.25"/><circle cx="351.0" cy="472.2" r="3.25"/><circle cx="383.5" cy="444.2" r="3.25"/><circle cx="345.8" cy="486.0" r="3.25"/><circle cx="385.5" cy="446.5" r="3.25"/><circle cx="328.9" cy="496.6" r="3.25"/><circle cx="398.4" cy="422.8" r="3.25"/><circle cx="342.6" cy="490.5" r="3.25"/><circle cx="355.6" cy="466.3" r="3.25"/><circle cx="392.1" cy="432.2" r="3.25"/><circle cx="342.3" cy="478.8" r="3.25"/><circle cx="354.1" cy="472.7" r="3.25"/><circle cx="355.9" cy="472.2" r="3.25"/><circle cx="331.6" cy="490.8" r="3.25"/><circle cx="376.6" cy="448.8" r="3.25"/><circle cx="366.5" cy="464.9" r="3.25"/><circle cx="348.6" cy="470.8" r="3.25"/><circle cx="329.0" cy="495.8" r="3.25"/><circle cx="350.2" cy="474.0" r="3.25"/><circle cx="326.7" cy="493.5" r="3.25"/><circle cx="356.8" cy="471.3" r="3.25"/><circle cx="350.5" cy="481.2" r="3.25"/><circle cx="372.9" cy="443.4" r="3.25"/><circle cx="375.0" cy="457.3" r="3.25"/><circle cx="369.8" cy="447.5" r="3.25"/><circle cx="341.4" cy="476.7" r="3.25"/><circle cx="370.0" cy="461.2" r="3.25"/><circle cx="395.4" cy="421.0" r="3.25"/><circle cx="357.5" cy="473.9" r="3.25"/><circle cx="359.3" cy="473.0" r="3.25"/><circle cx="345.8" cy="487.0" r="3.25"/><circle cx="381.4" cy="438.0" r="3.25"/><circle cx="405.4" cy="429.1" r="3.25"/><circle cx="365.9" cy="466.4" r="3.25"/><circle cx="337.6" cy="479.6" r="3.25"/><circle cx="359.2" cy="473.1" r="3.25"/><circle cx="361.7" cy="456.6" r="3.25"/><circle cx="361.7" cy="454.5" r="3.25"/><circle cx="364.8" cy="465.8" r="3.25"/><circle cx="384.8" cy="435.0" r="3.25"/><circle cx="339.9" cy="477.5" r="3.25"/><circle cx="372.1" cy="459.9" r="3.25"/><circle cx="352.2" cy="466.5" r="3.25"/><circle cx="381.4" cy="452.7" r="3.25"/><circle cx="329.4" cy="497.5" r="3.25"/><circle cx="392.0" cy="442.4" r="3.25"/><circle cx="399.6" cy="434.3" r="3.25"/><circle cx="371.1" cy="460.3" r="3.25"/><circle cx="362.8" cy="454.9" r="3.25"/><circle cx="396.4" cy="419.9" r="3.25"/><circle cx="357.0" cy="460.5" r="3.25"/><circle cx="360.2" cy="459.5" r="3.25"/><circle cx="348.2" cy="468.6" r="3.25"/><circle cx="341.3" cy="476.9" r="3.25"/><circle cx="347.2" cy="486.7" r="3.25"/><circle cx="335.0" cy="495.8" r="3.25"/><circle cx="347.7" cy="486.5" r="3.25"/><circle cx="333.9" cy="497.9" r="3.25"/><circle cx="369.9" cy="447.2" r="3.25"/><circle cx="365.1" cy="452.0" r="3.25"/><circle cx="374.7" cy="443.2" r="3.25"/><circle cx="388.6" cy="431.1" r="3.25"/><circle cx="383.2" cy="451.0" r="3.25"/><circle cx="370.7" cy="459.0" r="3.25"/><circle cx="388.0" cy="432.6" r="3.25"/><circle cx="374.1" cy="458.1" r="3.25"/><circle cx="395.2" cy="439.9" r="3.25"/><circle cx="375.7" cy="442.1" r="3.25"/><circle cx="404.3" cy="419.0" r="3.25"/><circle cx="396.3" cy="419.0" r="3.25"/><circle cx="362.8" cy="453.2" r="3.25"/><circle cx="396.9" cy="418.5" r="3.25"/><circle cx="357.6" cy="474.2" r="3.25"/><circle cx="366.5" cy="464.8" r="3.25"/><circle cx="341.4" cy="476.1" r="3.25"/><circle cx="383.3" cy="452.0" r="3.25"/><circle cx="373.9" cy="444.2" r="3.25"/><circle cx="332.0" cy="496.4" r="3.25"/><circle cx="377.5" cy="440.8" r="3.25"/><circle cx="391.6" cy="442.6" r="3.25"/><circle cx="354.3" cy="462.4" r="3.25"/><circle cx="350.3" cy="466.4" r="3.25"/><circle cx="350.2" cy="481.7" r="3.25"/><circle cx="367.7" cy="448.5" r="3.25"/><circle cx="329.2" cy="495.2" r="3.25"/><circle cx="395.7" cy="436.4" r="3.25"/><circle cx="398.7" cy="417.9" r="3.25"/><circle cx="375.1" cy="455.3" r="3.25"/><circle cx="355.2" cy="460.6" r="3.25"/><circle cx="339.6" cy="480.3" r="3.25"/><circle cx="327.4" cy="497.5" r="3.25"/><circle cx="338.2" cy="496.2" r="3.25"/><circle cx="324.2" cy="493.4" r="3.25"/><circle cx="324.8" cy="500.2" r="3.25"/><circle cx="322.9" cy="496.8" r="3.25"/><circle cx="397.7" cy="422.2" r="3.25"/><circle cx="402.1" cy="431.5" r="3.25"/><circle cx="405.8" cy="426.0" r="3.25"/><circle cx="398.2" cy="427.7" r="3.25"/><circle cx="412.4" cy="420.1" r="3.25"/><circle cx="414.4" cy="420.9" r="3.25"/><circle cx="403.4" cy="416.7" r="3.25"/><circle cx="410.7" cy="416.3" r="3.25"/><circle cx="396.4" cy="433.3" r="3.25"/><circle cx="412.4" cy="423.2" r="3.25"/><circle cx="414.5" cy="416.7" r="3.25"/><circle cx="397.8" cy="420.4" r="3.25"/><circle cx="415.0" cy="416.1" r="3.25"/><circle cx="399.3" cy="418.1" r="3.25"/><circle cx="397.2" cy="419.0" r="3.25"/><circle cx="403.0" cy="419.3" r="3.25"/><circle cx="402.2" cy="431.9" r="3.25"/><circle cx="399.5" cy="432.4" r="3.25"/><circle cx="410.4" cy="421.8" r="3.25"/><circle cx="407.3" cy="426.0" r="3.25"/><circle cx="407.5" cy="418.6" r="3.25"/><circle cx="402.6" cy="420.7" r="3.25"/><circle cx="403.9" cy="431.1" r="3.25"/><circle cx="404.4" cy="417.4" r="3.25"/><circle cx="405.4" cy="427.5" r="3.25"/><circle cx="404.8" cy="426.2" r="3.25"/><circle cx="398.0" cy="419.2" r="3.25"/><circle cx="408.9" cy="415.7" r="3.25"/><circle cx="402.0" cy="423.2" r="3.25"/><circle cx="400.0" cy="418.2" r="3.25"/><circle cx="396.4" cy="437.7" r="3.25"/><circle cx="405.7" cy="427.4" r="3.25"/><circle cx="412.8" cy="422.8" r="3.25"/><circle cx="400.6" cy="417.6" r="3.25"/><circle cx="410.1" cy="415.5" r="3.25"/><circle cx="407.8" cy="427.8" r="3.25"/><circle cx="408.6" cy="415.1" r="3.25"/><circle cx="396.8" cy="438.3" r="3.25"/><circle cx="407.6" cy="428.8" r="3.25"/><circle cx="414.8" cy="419.9" r="3.25"/><circle cx="405.0" cy="416.5" r="3.25"/><circle cx="403.3" cy="417.3" r="3.25"/><circle cx="326.8" cy="491.1" r="3.25"/><circle cx="330.0" cy="489.6" r="3.25"/><circle cx="336.1" cy="481.2" r="3.25"/><circle cx="343.2" cy="473.5" r="3.25"/><circle cx="347.1" cy="469.0" r="3.25"/><circle cx="354.1" cy="460.2" r="3.25"/><circle cx="326.8" cy="502.2" r="3.25"/><circle cx="350.3" cy="485.6" r="3.25"/><circle cx="359.7" cy="475.7" r="3.25"/><circle cx="369.6" cy="466.8" r="3.25"/><circle cx="365.1" cy="447.9" r="3.25"/><circle cx="372.8" cy="440.7" r="3.25"/><circle cx="385.4" cy="430.3" r="3.25"/><circle cx="395.9" cy="413.2" r="3.25"/><circle cx="403.5" cy="412.0" r="3.25"/><circle cx="382.6" cy="457.3" r="3.25"/><circle cx="388.2" cy="449.6" r="3.25"/><circle cx="404.1" cy="433.0" r="3.25"/><circle cx="409.0" cy="431.4" r="3.25"/><circle cx="421.0" cy="392.5" r="3.25"/><circle cx="431.4" cy="394.4" r="3.25"/><circle cx="434.2" cy="396.1" r="3.25"/><circle cx="435.3" cy="393.9" r="3.25"/><circle cx="417.1" cy="404.9" r="3.25"/><circle cx="423.8" cy="404.4" r="3.25"/><circle cx="426.4" cy="407.1" r="3.25"/><circle cx="428.2" cy="409.9" r="3.25"/><circle cx="412.2" cy="410.5" r="3.25"/><circle cx="415.5" cy="409.3" r="3.25"/><circle cx="418.2" cy="418.7" r="3.25"/><circle cx="417.6" cy="417.8" r="3.25"/><circle cx="409.5" cy="430.9" r="3.25"/><circle cx="404.5" cy="432.5" r="3.25"/><circle cx="397.3" cy="411.5" r="3.25"/><circle cx="403.9" cy="412.7" r="3.25"/><circle cx="407.3" cy="416.0" r="3.25"/><circle cx="473.0" cy="350.7" r="3.25"/><circle cx="484.3" cy="350.2" r="3.25"/><circle cx="489.1" cy="344.6" r="3.25"/><circle cx="495.5" cy="347.2" r="3.25"/><circle cx="505.2" cy="343.4" r="3.25"/><circle cx="462.4" cy="370.4" r="3.25"/><circle cx="448.1" cy="371.3" r="3.25"/><circle cx="445.6" cy="377.7" r="3.25"/><circle cx="443.0" cy="381.4" r="3.25"/><circle cx="452.2" cy="379.2" r="3.25"/><circle cx="434.2" cy="393.9" r="3.25"/></g>
<rect x="316.2" y="312.6" width="197.3" height="197.3" fill="none" stroke="#404040" stroke-width="1.3"/>
<text transform="translate(361.5,522.5) scale(1,1.06)" font-size="11" text-anchor="middle" fill="#2a2a2a">200</text>
<text transform="translate(419.2,522.5) scale(1,1.06)" font-size="11" text-anchor="middle" fill="#2a2a2a">400</text>
<text transform="translate(476.9,522.5) scale(1,1.06)" font-size="11" text-anchor="middle" fill="#2a2a2a">600</text>
<text transform="translate(312.9,496.6) scale(1,1.06)" font-size="11" text-anchor="end" fill="#2a2a2a">100</text>
<text transform="translate(312.9,467.7) scale(1,1.06)" font-size="11" text-anchor="end" fill="#2a2a2a">200</text>
<text transform="translate(312.9,438.9) scale(1,1.06)" font-size="11" text-anchor="end" fill="#2a2a2a">300</text>
<text transform="translate(312.9,410.0) scale(1,1.06)" font-size="11" text-anchor="end" fill="#2a2a2a">400</text>
<text transform="translate(312.9,381.2) scale(1,1.06)" font-size="11" text-anchor="end" fill="#2a2a2a">500</text>
<text transform="translate(312.9,352.3) scale(1,1.06)" font-size="11" text-anchor="end" fill="#2a2a2a">600</text>
<text transform="translate(312.9,323.5) scale(1,1.06)" font-size="11" text-anchor="end" fill="#2a2a2a">700</text>
<path d="M361.8 509.5v-3M361.8 312.5v3M419.5 509.5v-3M419.5 312.5v3M477.2 509.5v-3M477.2 312.5v3M316.5 493.1h3M513.5 493.1h-3M316.5 464.2h3M513.5 464.2h-3M316.5 435.4h3M513.5 435.4h-3M316.5 406.5h3M513.5 406.5h-3M316.5 377.7h3M513.5 377.7h-3M316.5 348.8h3M513.5 348.8h-3M316.5 320.0h3M513.5 320.0h-3" stroke="#404040" stroke-width="1" fill="none"/>
<text transform="translate(413.0,302.5) scale(1.0,1.1)" font-size="13.33" font-weight="bold" text-anchor="middle" fill="#000">All: R=0.98453</text>
<text transform="translate(413.4,538.4) scale(1.04,1.1)" font-size="13.33" font-weight="bold" text-anchor="middle" fill="#000">Target</text>
<text transform="translate(287.4,411.9) rotate(-90) scale(0.995,1.1)" font-size="13.33" font-weight="bold" text-anchor="middle" fill="#000">Output ~= 0.97*Target + 6.8</text>
<rect x="321.5" y="318.5" width="76" height="50" fill="#fff" stroke="#404040" stroke-width="1"/>
<circle cx="344.6" cy="327.8" r="3.15" fill="none" stroke="#000" stroke-width="1.1"/>
<text transform="translate(365.3,332.4) scale(1,1.06)" font-size="11" fill="#111">Data</text>
<line x1="327.0" y1="343.0" x2="361.5" y2="343.0" stroke="#606060" stroke-width="2"/>
<text transform="translate(365.1,347.9) scale(1,1.06)" font-size="11" fill="#111">Fit</text>
<line x1="327.0" y1="359.5" x2="361.5" y2="359.5" stroke="#444" stroke-width="1" stroke-dasharray="1.2 3"/>
<text transform="translate(366.0,363.1) scale(1,1.06)" font-size="11" fill="#111">Y = T</text></g>
</svg></body></html>
